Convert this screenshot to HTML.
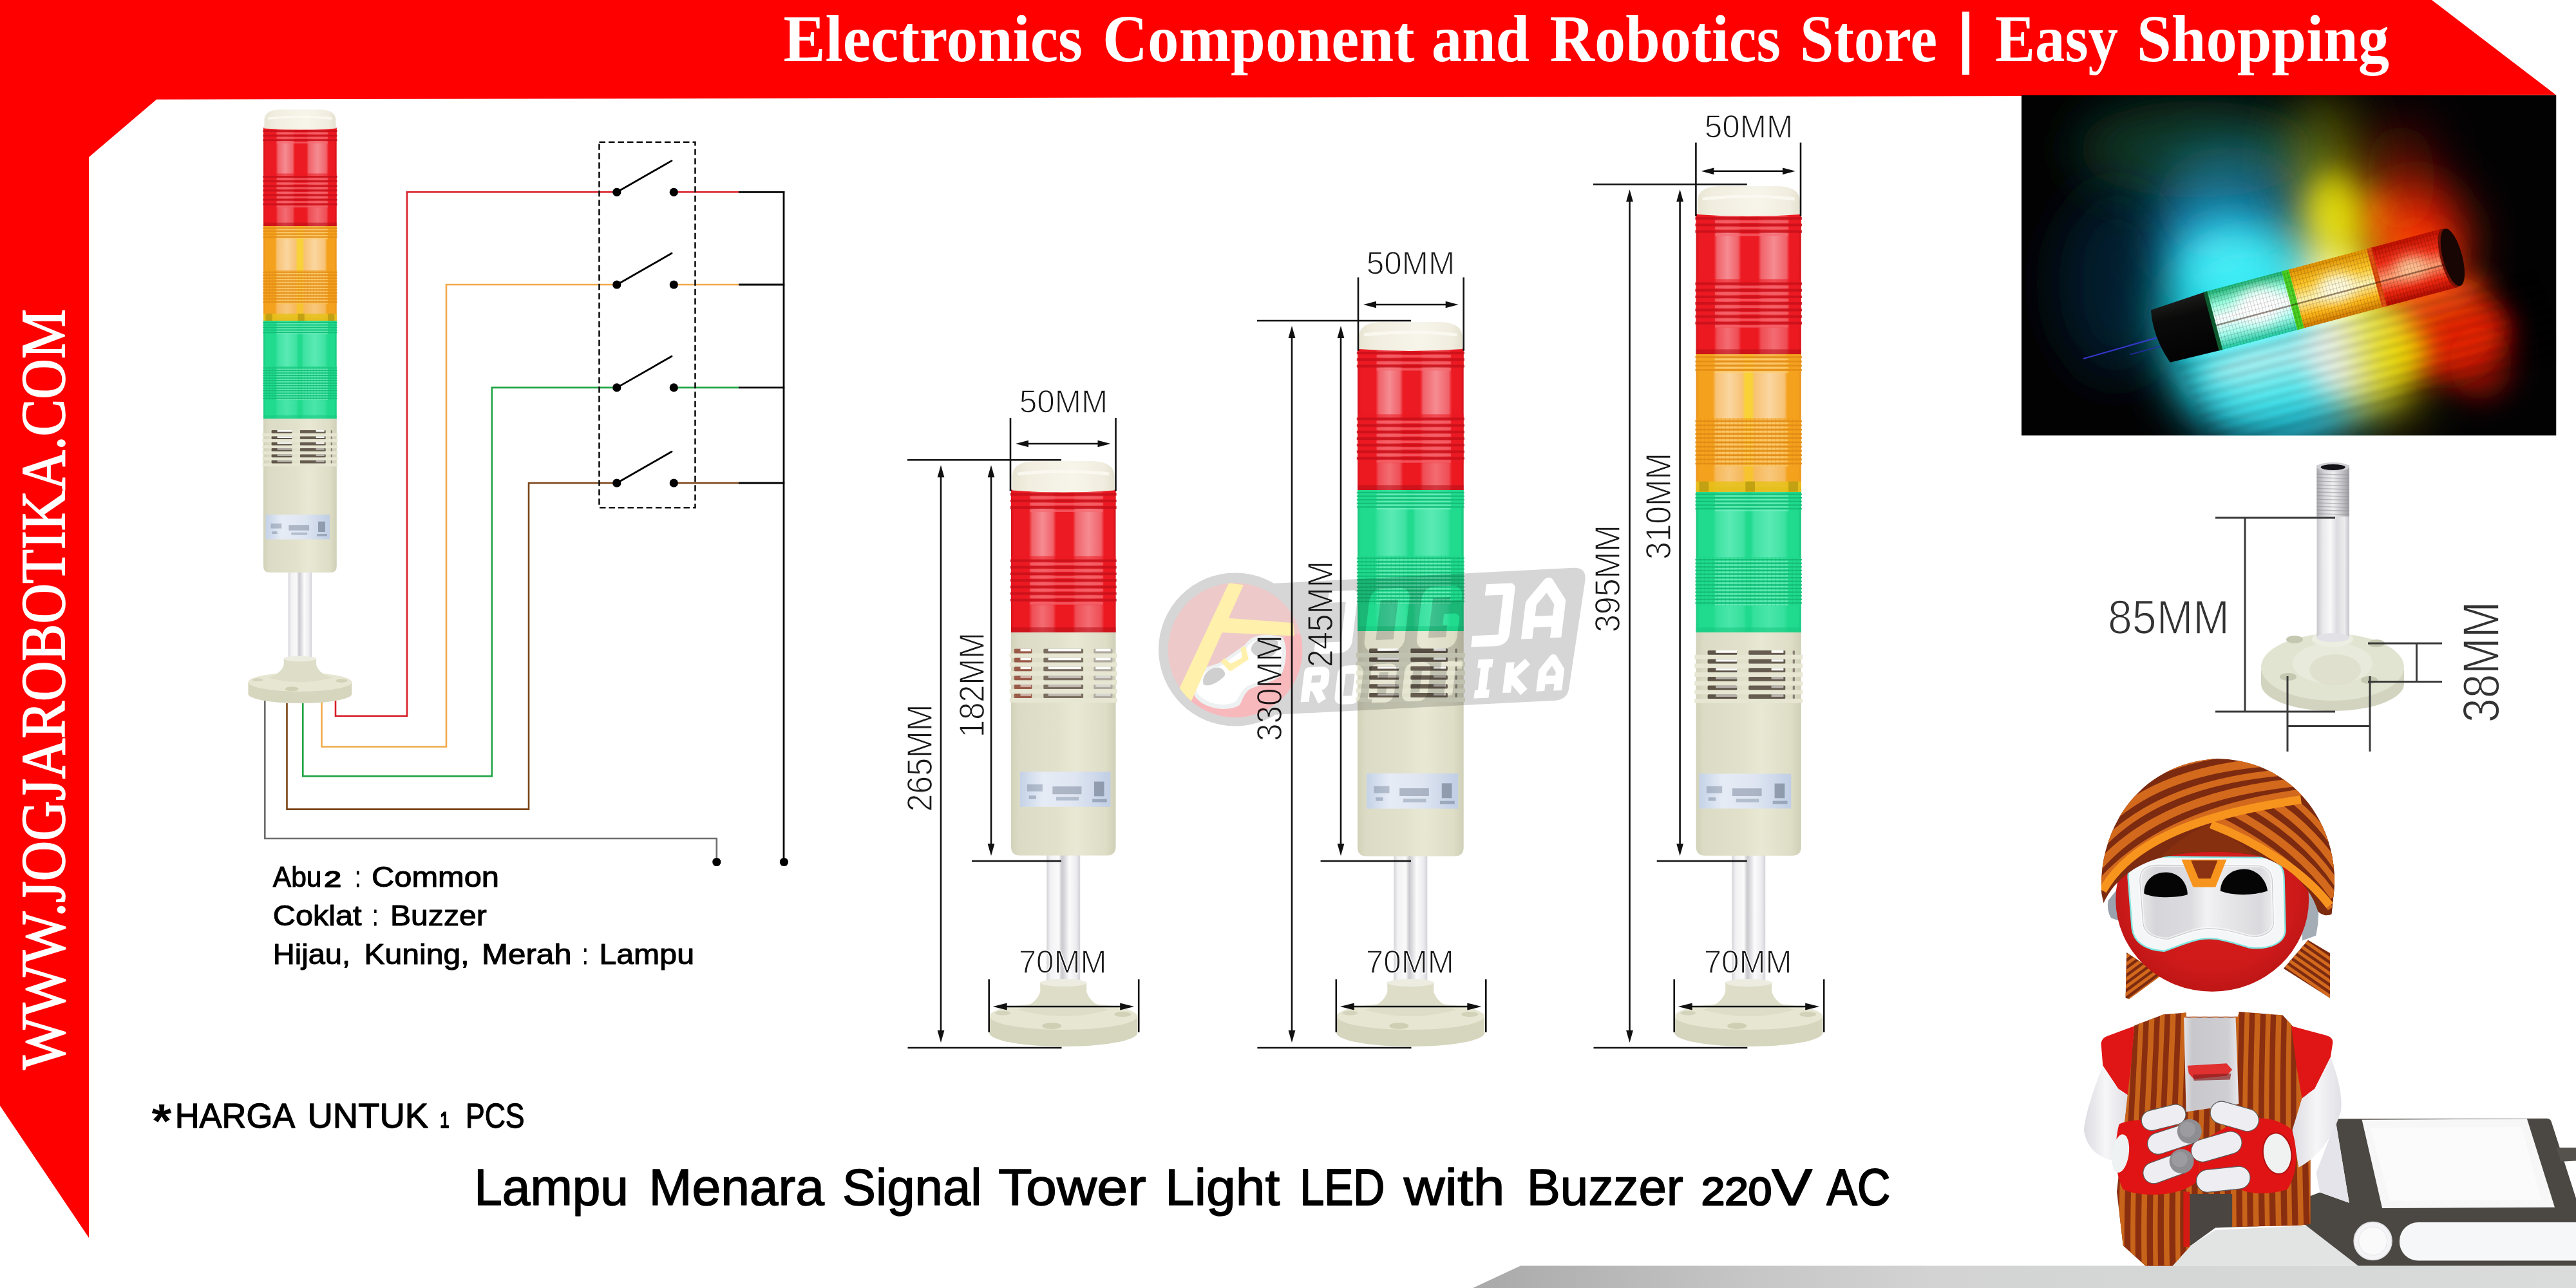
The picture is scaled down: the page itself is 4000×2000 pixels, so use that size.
<!DOCTYPE html>
<html><head><meta charset="utf-8"><title>Lampu Menara Signal Tower Light</title>
<style>
html,body{margin:0;padding:0;background:#fff;}
body{width:4000px;height:2000px;overflow:hidden;font-family:"Liberation Sans",sans-serif;}
svg{display:block;position:absolute;left:0;top:0;}
text{white-space:pre;}
</style></head><body>
<svg width="4000" height="2000" viewBox="0 0 4000 2000">
<defs>
<linearGradient id="sg1" x1="0" x2="1" y1="0" y2="0"><stop offset="0" stop-color="#d4121a"/><stop offset="0.03" stop-color="#ec1a22"/><stop offset="0.17" stop-color="#ec1a22"/><stop offset="0.2" stop-color="#f1626a"/><stop offset="0.3" stop-color="#f58c92"/><stop offset="0.4" stop-color="#f1626a"/><stop offset="0.43" stop-color="#ec1a22"/><stop offset="0.59" stop-color="#ec1a22"/><stop offset="0.62" stop-color="#f1626a"/><stop offset="0.74" stop-color="#f58c92"/><stop offset="0.86" stop-color="#f1626a"/><stop offset="0.89" stop-color="#ec1a22"/><stop offset="0.97" stop-color="#ec1a22"/><stop offset="1" stop-color="#d4121a"/></linearGradient>
<linearGradient id="sg2" x1="0" x2="1" y1="0" y2="0"><stop offset="0" stop-color="#e8901a"/><stop offset="0.03" stop-color="#f4a21e"/><stop offset="0.16" stop-color="#f4a21e"/><stop offset="0.19" stop-color="#f8c274"/><stop offset="0.32" stop-color="#fad6a0"/><stop offset="0.44" stop-color="#f8c274"/><stop offset="0.47" stop-color="#f8d236"/><stop offset="0.53" stop-color="#f8d236"/><stop offset="0.56" stop-color="#f8c274"/><stop offset="0.7" stop-color="#fad6a0"/><stop offset="0.84" stop-color="#f8c274"/><stop offset="0.87" stop-color="#f4a21e"/><stop offset="0.97" stop-color="#f4a21e"/><stop offset="1" stop-color="#e8901a"/></linearGradient>
<linearGradient id="sg3" x1="0" x2="1" y1="0" y2="0"><stop offset="0" stop-color="#16c47c"/><stop offset="0.03" stop-color="#20da8e"/><stop offset="0.16" stop-color="#20da8e"/><stop offset="0.2" stop-color="#3ee2a2"/><stop offset="0.32" stop-color="#5aeab4"/><stop offset="0.45" stop-color="#3ee2a2"/><stop offset="0.48" stop-color="#20da8e"/><stop offset="0.52" stop-color="#20da8e"/><stop offset="0.55" stop-color="#3ee2a2"/><stop offset="0.7" stop-color="#5aeab4"/><stop offset="0.84" stop-color="#3ee2a2"/><stop offset="0.88" stop-color="#20da8e"/><stop offset="0.97" stop-color="#20da8e"/><stop offset="1" stop-color="#16c47c"/></linearGradient>
<linearGradient id="bg4" x1="0" x2="1" y1="0" y2="0"><stop offset="0" stop-color="#d2d2ba"/><stop offset="0.08" stop-color="#dcdcc6"/><stop offset="0.45" stop-color="#e2e2cc"/><stop offset="0.62" stop-color="#e8e8d4"/><stop offset="0.9" stop-color="#deddc6"/><stop offset="1" stop-color="#d0d0b8"/></linearGradient>
<linearGradient id="pg5" x1="0" x2="1" y1="0" y2="0"><stop offset="0" stop-color="#d4d4d8"/><stop offset="0.12" stop-color="#f2f2f4"/><stop offset="0.36" stop-color="#fafafa"/><stop offset="0.46" stop-color="#c9c9ce"/><stop offset="0.56" stop-color="#dedee2"/><stop offset="0.68" stop-color="#fbfbfb"/><stop offset="0.88" stop-color="#ececf0"/><stop offset="1" stop-color="#d2d2d8"/></linearGradient>
<linearGradient id="cg6" x1="0" x2="1" y1="0" y2="0"><stop offset="0" stop-color="#e8e5d4"/><stop offset="0.15" stop-color="#f1eee0"/><stop offset="0.6" stop-color="#f7f5ea"/><stop offset="0.9" stop-color="#f0eddf"/><stop offset="1" stop-color="#e4e1d0"/></linearGradient>
<linearGradient id="lg7" x1="0" x2="1" y1="0" y2="0"><stop offset="0" stop-color="#c4d2e6"/><stop offset="0.25" stop-color="#e6ecf6"/><stop offset="0.6" stop-color="#dfe6f2"/><stop offset="1" stop-color="#c0cee4"/></linearGradient>
<clipPath id="photoclip"><rect x="3139" y="147.7" width="830.5" height="528.8"/></clipPath>
<filter id="bl40" x="-150%" y="-150%" width="400%" height="400%"><feGaussianBlur stdDeviation="38"/></filter>
<filter id="bl22" x="-150%" y="-150%" width="400%" height="400%"><feGaussianBlur stdDeviation="22"/></filter>
<filter id="bl10" x="-150%" y="-150%" width="400%" height="400%"><feGaussianBlur stdDeviation="10"/></filter>
<filter id="bl4" x="-150%" y="-150%" width="400%" height="400%"><feGaussianBlur stdDeviation="4"/></filter>
<filter id="bl2" x="-150%" y="-150%" width="400%" height="400%"><feGaussianBlur stdDeviation="1.6"/></filter>
<linearGradient id="lpg" x1="0" x2="0" y1="0" y2="1"><stop offset="0" stop-color="#18b070"/><stop offset="0.25" stop-color="#9affe0"/><stop offset="0.5" stop-color="#ffffff"/><stop offset="0.75" stop-color="#aafff0"/><stop offset="1" stop-color="#20c8a0"/></linearGradient>
<linearGradient id="lpy" x1="0" x2="0" y1="0" y2="1"><stop offset="0" stop-color="#e09000"/><stop offset="0.3" stop-color="#ffc828"/><stop offset="0.55" stop-color="#fff4b0"/><stop offset="0.8" stop-color="#ffb818"/><stop offset="1" stop-color="#d07800"/></linearGradient>
<linearGradient id="lpr" x1="0" x2="0" y1="0" y2="1"><stop offset="0" stop-color="#c01000"/><stop offset="0.3" stop-color="#f43018"/><stop offset="0.55" stop-color="#ff9a70"/><stop offset="0.8" stop-color="#f02810"/><stop offset="1" stop-color="#b00c00"/></linearGradient>
<linearGradient id="lpb" x1="0" x2="0" y1="0" y2="1"><stop offset="0" stop-color="#1c1c1a"/><stop offset="0.3" stop-color="#0a0a0a"/><stop offset="1" stop-color="#030303"/></linearGradient>
<linearGradient id="pole2" x1="0" x2="1" y1="0" y2="0"><stop offset="0" stop-color="#c8c8cc"/><stop offset="0.18" stop-color="#e8e8ea"/><stop offset="0.42" stop-color="#f8f8f8"/><stop offset="0.62" stop-color="#dcdce0"/><stop offset="0.85" stop-color="#ececee"/><stop offset="1" stop-color="#c4c4ca"/></linearGradient>
<linearGradient id="thr" x1="0" x2="1" y1="0" y2="0"><stop offset="0" stop-color="#a8a8ac"/><stop offset="0.25" stop-color="#d8d8dc"/><stop offset="0.5" stop-color="#efeff0"/><stop offset="0.75" stop-color="#c8c8cc"/><stop offset="1" stop-color="#9c9ca2"/></linearGradient>
<clipPath id="tailL"><path d="M3302.1,1479.1 L3355.7,1514.8 L3306.0,1551.3 L3300.6,1549.7 Z"/></clipPath>
<clipPath id="tailR"><path d="M3583.9,1459.7 L3618.0,1479.9 L3618.0,1549.7 L3545.9,1503.9 Z"/></clipPath>
<radialGradient id="ballg" cx="0.5" cy="0.45" r="0.6"><stop offset="0" stop-color="#d81e1e"/><stop offset="0.7" stop-color="#cf1a1a"/><stop offset="1" stop-color="#b81414"/></radialGradient>
<linearGradient id="visg" x1="0" x2="1" y1="0" y2="0"><stop offset="0" stop-color="#e9e9ec"/><stop offset="0.12" stop-color="#d6d6da"/><stop offset="0.38" stop-color="#dcdce0"/><stop offset="0.5" stop-color="#f2f2f4"/><stop offset="0.66" stop-color="#e6e6e8"/><stop offset="0.9" stop-color="#dadade"/><stop offset="1" stop-color="#ececee"/></linearGradient>
<clipPath id="turbc"><path d="M3263.3,1387.5 C3257.1,1297.5 3313.0,1185.7 3443.0,1177.9 C3569.9,1181.0 3632.0,1289.7 3624.3,1382.9 L3620.4,1419.3 C3611.8,1424.0 3603.3,1419.3 3599.4,1414.7 C3584.7,1367.3 3538.1,1332.4 3492.3,1326.6 C3453.5,1320.8 3399.2,1320.8 3352.6,1332.4 C3313.0,1344.0 3282.7,1367.3 3266.4,1402.3 Z"/></clipPath>
<clipPath id="turbr"><path d="M3429.4,1278.1 C3499.3,1247.0 3569.1,1239.3 3576.9,1241.6 C3635.1,1305.2 3631.2,1367.3 3624.3,1421.7 L3596.3,1417.8 C3576.9,1367.3 3522.6,1324.6 3483.8,1320.8 Z"/></clipPath>
<linearGradient id="floorg" x1="0" x2="1" y1="0" y2="0"><stop offset="0" stop-color="#a9a9a9"/><stop offset="0.25" stop-color="#c6c6c6"/><stop offset="0.42" stop-color="#d3d3d3"/><stop offset="0.75" stop-color="#d6d8d8"/><stop offset="1" stop-color="#dadcdc"/></linearGradient>
<clipPath id="vestc"><path d="M3314.2,1592.6 L3359.6,1575.2 L3394.6,1572.4 L3394.6,1578.7 L3474.9,1578.7 L3477.0,1571.0 L3544.8,1576.6 L3562.3,1596.1 L3587.5,1731.7 L3587.5,1900.8 L3569.3,1902.9 L3466.2,1905.0 L3466.2,1854.0 L3400.2,1854.0 L3400.2,1936.1 L3373.6,1965.8 L3331.7,1965.8 L3296.8,1934.3 L3287.0,1850.5 L3300.2,1731.7 Z"/></clipPath>
<linearGradient id="chestg" x1="0" x2="1" y1="0" y2="0"><stop offset="0" stop-color="#e4e4e8"/><stop offset="0.15" stop-color="#c8c8cc"/><stop offset="0.8" stop-color="#cfcfd3"/><stop offset="1" stop-color="#e8e8ec"/></linearGradient>
<linearGradient id="armg" x1="0" x2="1" y1="0" y2="0"><stop offset="0" stop-color="#dcdce2"/><stop offset="0.5" stop-color="#f6f6f8"/><stop offset="1" stop-color="#e0e0e6"/></linearGradient>
<clipPath id="wmin"><circle cx="1918.0" cy="1009.5" r="104.5"/></clipPath>
</defs>
<polygon points="0,0 3776,0 3969,147.5 243,154.5 138,244 138,1922 0,1717" fill="#fe0000"/>
<text x="1216.5" y="94.5" font-family="Liberation Serif" font-weight="bold" font-size="104" fill="#fff" textLength="464.5" lengthAdjust="spacingAndGlyphs">Electronics</text>
<text x="1712" y="94.5" font-family="Liberation Serif" font-weight="bold" font-size="104" fill="#fff" textLength="484.5" lengthAdjust="spacingAndGlyphs">Component</text>
<text x="2223" y="94.5" font-family="Liberation Serif" font-weight="bold" font-size="104" fill="#fff" textLength="152.0" lengthAdjust="spacingAndGlyphs">and</text>
<text x="2406.5" y="94.5" font-family="Liberation Serif" font-weight="bold" font-size="104" fill="#fff" textLength="358.5" lengthAdjust="spacingAndGlyphs">Robotics</text>
<text x="2795" y="94.5" font-family="Liberation Serif" font-weight="bold" font-size="104" fill="#fff" textLength="213.0" lengthAdjust="spacingAndGlyphs">Store</text>
<text x="3098" y="94.5" font-family="Liberation Serif" font-weight="bold" font-size="104" fill="#fff" textLength="191.0" lengthAdjust="spacingAndGlyphs">Easy</text>
<text x="3318" y="94.5" font-family="Liberation Serif" font-weight="bold" font-size="104" fill="#fff" textLength="392.0" lengthAdjust="spacingAndGlyphs">Shopping</text>
<rect x="3047" y="18" width="11" height="98" fill="#fff"/>
<text id="vtext" transform="translate(99.5,1661) rotate(-90)" font-family="Liberation Serif" font-size="97" fill="#fff" stroke="#fff" stroke-width="1.7" textLength="1181" lengthAdjust="spacingAndGlyphs">WWW.JOGJAROBOTIKA.COM</text>
<text x="423.8" y="1376.5" font-family="Liberation Sans" font-weight="normal" font-size="45" fill="#000" stroke="#000" stroke-width="1.1" stroke-linejoin="round" textLength="75.7" lengthAdjust="spacingAndGlyphs">Abu</text>
<text x="503.3" y="1376.5" font-family="Liberation Sans" font-weight="normal" font-size="35" fill="#000" stroke="#000" stroke-width="1.9" stroke-linejoin="round" textLength="26.7" lengthAdjust="spacingAndGlyphs">2</text>
<text x="551.5" y="1376.5" font-family="Liberation Sans" font-weight="normal" font-size="45" fill="#000" stroke="#000" stroke-width="1.1" stroke-linejoin="round" textLength="8.5" lengthAdjust="spacingAndGlyphs">:</text>
<text x="577" y="1376.5" font-family="Liberation Sans" font-weight="normal" font-size="45" fill="#000" stroke="#000" stroke-width="1.1" stroke-linejoin="round" textLength="198.0" lengthAdjust="spacingAndGlyphs">Common</text>
<text x="423.8" y="1436.7" font-family="Liberation Sans" font-weight="normal" font-size="45" fill="#000" stroke="#000" stroke-width="1.1" stroke-linejoin="round" textLength="137.8" lengthAdjust="spacingAndGlyphs">Coklat</text>
<text x="578.5" y="1436.7" font-family="Liberation Sans" font-weight="normal" font-size="45" fill="#000" stroke="#000" stroke-width="1.1" stroke-linejoin="round" textLength="8.5" lengthAdjust="spacingAndGlyphs">:</text>
<text x="606" y="1436.7" font-family="Liberation Sans" font-weight="normal" font-size="45" fill="#000" stroke="#000" stroke-width="1.1" stroke-linejoin="round" textLength="149.7" lengthAdjust="spacingAndGlyphs">Buzzer</text>
<text x="423.8" y="1497" font-family="Liberation Sans" font-weight="normal" font-size="45" fill="#000" stroke="#000" stroke-width="1.1" stroke-linejoin="round" textLength="120.2" lengthAdjust="spacingAndGlyphs">Hijau,</text>
<text x="565.5" y="1497" font-family="Liberation Sans" font-weight="normal" font-size="45" fill="#000" stroke="#000" stroke-width="1.1" stroke-linejoin="round" textLength="163.0" lengthAdjust="spacingAndGlyphs">Kuning,</text>
<text x="748" y="1497" font-family="Liberation Sans" font-weight="normal" font-size="45" fill="#000" stroke="#000" stroke-width="1.1" stroke-linejoin="round" textLength="139.7" lengthAdjust="spacingAndGlyphs">Merah</text>
<text x="904.5" y="1497" font-family="Liberation Sans" font-weight="normal" font-size="45" fill="#000" stroke="#000" stroke-width="1.1" stroke-linejoin="round" textLength="8.5" lengthAdjust="spacingAndGlyphs">:</text>
<text x="930.4" y="1497" font-family="Liberation Sans" font-weight="normal" font-size="45" fill="#000" stroke="#000" stroke-width="1.1" stroke-linejoin="round" textLength="147.6" lengthAdjust="spacingAndGlyphs">Lampu</text>
<text x="271.7" y="1751.4" font-family="Liberation Sans" font-weight="normal" font-size="54" fill="#000" stroke="#000" stroke-width="1.3" stroke-linejoin="round" textLength="186.6" lengthAdjust="spacingAndGlyphs">HARGA</text>
<text x="477.5" y="1751.4" font-family="Liberation Sans" font-weight="normal" font-size="54" fill="#000" stroke="#000" stroke-width="1.3" stroke-linejoin="round" textLength="187.7" lengthAdjust="spacingAndGlyphs">UNTUK</text>
<text x="683.3" y="1751.4" font-family="Liberation Sans" font-weight="normal" font-size="35" fill="#000" stroke="#000" stroke-width="2.2" stroke-linejoin="round" textLength="14.4" lengthAdjust="spacingAndGlyphs">1</text>
<text x="723" y="1751.4" font-family="Liberation Sans" font-weight="normal" font-size="54" fill="#000" stroke="#000" stroke-width="1.3" stroke-linejoin="round" textLength="91.5" lengthAdjust="spacingAndGlyphs">PCS</text>
<text x="235.5" y="1766" font-family="Liberation Sans" font-weight="bold" font-size="74" fill="#000" textLength="31" lengthAdjust="spacingAndGlyphs">*</text>
<text x="736.3" y="1871" font-family="Liberation Sans" font-weight="normal" font-size="80" fill="#000" stroke="#000" stroke-width="1.5" stroke-linejoin="round" textLength="239.5" lengthAdjust="spacingAndGlyphs">Lampu</text>
<text x="1007.5" y="1871" font-family="Liberation Sans" font-weight="normal" font-size="80" fill="#000" stroke="#000" stroke-width="1.5" stroke-linejoin="round" textLength="272.5" lengthAdjust="spacingAndGlyphs">Menara</text>
<text x="1308" y="1871" font-family="Liberation Sans" font-weight="normal" font-size="80" fill="#000" stroke="#000" stroke-width="1.5" stroke-linejoin="round" textLength="216.5" lengthAdjust="spacingAndGlyphs">Signal</text>
<text x="1550" y="1871" font-family="Liberation Sans" font-weight="normal" font-size="80" fill="#000" stroke="#000" stroke-width="1.5" stroke-linejoin="round" textLength="229.8" lengthAdjust="spacingAndGlyphs">Tower</text>
<text x="1808.9" y="1871" font-family="Liberation Sans" font-weight="normal" font-size="80" fill="#000" stroke="#000" stroke-width="1.5" stroke-linejoin="round" textLength="178.4" lengthAdjust="spacingAndGlyphs">Light</text>
<text x="2018.5" y="1871" font-family="Liberation Sans" font-weight="normal" font-size="80" fill="#000" stroke="#000" stroke-width="2.2" stroke-linejoin="round" textLength="131.8" lengthAdjust="spacingAndGlyphs">LED</text>
<text x="2179.7" y="1871" font-family="Liberation Sans" font-weight="normal" font-size="80" fill="#000" stroke="#000" stroke-width="1.5" stroke-linejoin="round" textLength="157.0" lengthAdjust="spacingAndGlyphs">with</text>
<text x="2370.7" y="1871" font-family="Liberation Sans" font-weight="normal" font-size="80" fill="#000" stroke="#000" stroke-width="1.5" stroke-linejoin="round" textLength="243.2" lengthAdjust="spacingAndGlyphs">Buzzer</text>
<text x="2641.8" y="1871" font-family="Liberation Sans" font-weight="normal" font-size="61" fill="#000" stroke="#000" stroke-width="2.6" stroke-linejoin="round" textLength="109.5" lengthAdjust="spacingAndGlyphs">220</text>
<text x="2751.3" y="1871" font-family="Liberation Sans" font-weight="normal" font-size="80" fill="#000" stroke="#000" stroke-width="2.0" stroke-linejoin="round" textLength="62.7" lengthAdjust="spacingAndGlyphs">V</text>
<text x="2836.5" y="1871" font-family="Liberation Sans" font-weight="normal" font-size="80" fill="#000" stroke="#000" stroke-width="2.0" stroke-linejoin="round" textLength="98.8" lengthAdjust="spacingAndGlyphs">AC</text>
<polyline points="521,1088 521,1111.8 632,1111.8 632,298.3 958,298.3" fill="none" stroke="#d81e28" stroke-width="2.6" stroke-linejoin="miter"/>
<polyline points="499.5,1090 499.5,1159.5 693,1159.5 693,442 958,442" fill="none" stroke="#f2aa4a" stroke-width="2.6" stroke-linejoin="miter"/>
<polyline points="470.3,1092 470.3,1205.4 763.8,1205.4 763.8,601.9 958,601.9" fill="none" stroke="#22a447" stroke-width="2.6" stroke-linejoin="miter"/>
<polyline points="445.5,1092 445.5,1256.6 821,1256.6 821,750 958,750" fill="none" stroke="#7a4316" stroke-width="2.6" stroke-linejoin="miter"/>
<polyline points="411.3,1088 411.3,1302 1112.8,1302 1112.8,1338" fill="none" stroke="#6e6e6e" stroke-width="2.6" stroke-linejoin="miter"/>
<polyline points="1046,298.3 1148,298.3" fill="none" stroke="#d81e28" stroke-width="2.6" stroke-linejoin="miter"/>
<polyline points="1147,298.3 1218.2,298.3" fill="none" stroke="#000" stroke-width="2.8" stroke-linejoin="miter"/>
<polyline points="1046,442 1148,442" fill="none" stroke="#f2aa4a" stroke-width="2.6" stroke-linejoin="miter"/>
<polyline points="1147,442 1218.2,442" fill="none" stroke="#000" stroke-width="2.8" stroke-linejoin="miter"/>
<polyline points="1046,601.9 1148,601.9" fill="none" stroke="#22a447" stroke-width="2.6" stroke-linejoin="miter"/>
<polyline points="1147,601.9 1218.2,601.9" fill="none" stroke="#000" stroke-width="2.8" stroke-linejoin="miter"/>
<polyline points="1046,750 1148,750" fill="none" stroke="#7a4316" stroke-width="2.6" stroke-linejoin="miter"/>
<polyline points="1147,750 1218.2,750" fill="none" stroke="#000" stroke-width="2.8" stroke-linejoin="miter"/>
<polyline points="1217,296.90000000000003 1217,1338" fill="none" stroke="#000" stroke-width="2.8" stroke-linejoin="miter"/>
<rect x="930.5" y="220.7" width="149" height="567.5" fill="none" stroke="#111" stroke-width="2.6" stroke-dasharray="9.5,5"/>
<line x1="958" y1="298.3" x2="1043" y2="249.60000000000002" stroke="#000" stroke-width="2.8" stroke-linecap="round"/>
<circle cx="957.8" cy="298.3" r="6.6" fill="#000"/><circle cx="1046.3" cy="298.3" r="6.6" fill="#000"/>
<line x1="958" y1="442" x2="1043" y2="393.3" stroke="#000" stroke-width="2.8" stroke-linecap="round"/>
<circle cx="957.8" cy="442" r="6.6" fill="#000"/><circle cx="1046.3" cy="442" r="6.6" fill="#000"/>
<line x1="958" y1="601.9" x2="1043" y2="553.1999999999999" stroke="#000" stroke-width="2.8" stroke-linecap="round"/>
<circle cx="957.8" cy="601.9" r="6.6" fill="#000"/><circle cx="1046.3" cy="601.9" r="6.6" fill="#000"/>
<line x1="958" y1="750" x2="1043" y2="701.3" stroke="#000" stroke-width="2.8" stroke-linecap="round"/>
<circle cx="957.8" cy="750" r="6.6" fill="#000"/><circle cx="1046.3" cy="750" r="6.6" fill="#000"/>
<circle cx="1112.8" cy="1338.5" r="6.6" fill="#000"/><circle cx="1217.4" cy="1338.5" r="6.6" fill="#000"/>
<rect x="447.7" y="885.0" width="36.4" height="141.0" fill="url(#pg5)"/>
<path d="M385.4,1059.2 L385.4,1077.4 A80.5,14.7 0 0 0 546.4,1077.4 L546.4,1059.2 Z" fill="#d6d6be"/><ellipse cx="465.9" cy="1059.2" rx="80.5" ry="14.7" fill="#e6e6d2"/><path d="M440.7,1022.1 Q465.9,1017.2 491.1,1022.1 L491.1,1032.6 Q495.3,1046.6 515.8,1052.2 Q465.9,1066.2 416.0,1052.2 Q436.5,1046.6 440.7,1032.6 Z" fill="#dedec8"/><ellipse cx="465.9" cy="1022.8" rx="25.2" ry="4.2" fill="#ecece0"/><ellipse cx="453.3" cy="1069.7" rx="10.5" ry="3.5" fill="#cfcfb4"/><ellipse cx="530.3" cy="1057.1" rx="9.1" ry="2.8" fill="#d2d2b8"/><ellipse cx="400.1" cy="1055.7" rx="8.4" ry="2.4" fill="#d4d4bc"/>
<path d="M409.0,650.0 L522.8,650.0 L522.8,879.2 Q522.8,889.0 513.0,889.0 L418.8,889.0 Q409.0,889.0 409.0,879.2 Z" fill="url(#bg4)"/>
<rect x="407.5" y="672.7" width="116.8" height="4.7" fill="#e6e6d2"/><rect x="421.6" y="668.0" width="31.8" height="4.7" rx="1.0" fill="#5e5448"/><rect x="430.5" y="668.0" width="22.9" height="2.6" fill="#fcfcfa" opacity="1.0"/><rect x="465.9" y="668.0" width="39.8" height="4.7" rx="1.0" fill="#665c50"/><rect x="490.6" y="668.0" width="13.1" height="2.6" fill="#fcfcfa" opacity="1.0"/><rect x="513.7" y="668.0" width="2.3" height="4.7" rx="1.0" fill="#8a8278"/><rect x="407.5" y="682.0" width="116.8" height="4.7" fill="#e6e6d2"/><rect x="421.6" y="677.4" width="31.8" height="4.7" rx="1.0" fill="#5e5448"/><rect x="430.5" y="677.4" width="22.9" height="2.6" fill="#fcfcfa" opacity="1.0"/><rect x="465.9" y="677.4" width="39.8" height="4.7" rx="1.0" fill="#665c50"/><rect x="490.6" y="677.4" width="13.1" height="2.6" fill="#fcfcfa" opacity="1.0"/><rect x="513.7" y="677.4" width="2.3" height="4.7" rx="1.0" fill="#8a8278"/><rect x="407.5" y="691.4" width="116.8" height="4.7" fill="#e6e6d2"/><rect x="421.6" y="686.7" width="31.8" height="4.7" rx="1.0" fill="#5e5448"/><rect x="430.5" y="686.7" width="22.9" height="2.6" fill="#fcfcfa" opacity="1.0"/><rect x="465.9" y="686.7" width="39.8" height="4.7" rx="1.0" fill="#665c50"/><rect x="490.6" y="686.7" width="13.1" height="2.6" fill="#fcfcfa" opacity="1.0"/><rect x="513.7" y="686.7" width="2.3" height="4.7" rx="1.0" fill="#8a8278"/><rect x="407.5" y="700.8" width="116.8" height="4.7" fill="#e6e6d2"/><rect x="421.6" y="696.1" width="31.8" height="4.7" rx="1.0" fill="#5e5448"/><rect x="430.5" y="696.1" width="22.9" height="2.6" fill="#fcfcfa" opacity="0.55"/><rect x="465.9" y="696.1" width="39.8" height="4.7" rx="1.0" fill="#665c50"/><rect x="490.6" y="696.1" width="13.1" height="2.6" fill="#fcfcfa" opacity="0.55"/><rect x="513.7" y="696.1" width="2.3" height="4.7" rx="1.0" fill="#8a8278"/><rect x="407.5" y="710.1" width="116.8" height="4.7" fill="#e6e6d2"/><rect x="421.6" y="705.5" width="31.8" height="4.7" rx="1.0" fill="#5e5448"/><rect x="430.5" y="705.5" width="22.9" height="2.6" fill="#fcfcfa" opacity="0.55"/><rect x="465.9" y="705.5" width="39.8" height="4.7" rx="1.0" fill="#665c50"/><rect x="490.6" y="705.5" width="13.1" height="2.6" fill="#fcfcfa" opacity="0.55"/><rect x="513.7" y="705.5" width="2.3" height="4.7" rx="1.0" fill="#8a8278"/><rect x="407.5" y="719.5" width="116.8" height="4.7" fill="#e6e6d2"/><rect x="421.6" y="714.8" width="31.8" height="4.7" rx="1.0" fill="#5e5448"/><rect x="430.5" y="714.8" width="22.9" height="2.6" fill="#fcfcfa" opacity="0.55"/><rect x="465.9" y="714.8" width="39.8" height="4.7" rx="1.0" fill="#665c50"/><rect x="490.6" y="714.8" width="13.1" height="2.6" fill="#fcfcfa" opacity="0.55"/><rect x="513.7" y="714.8" width="2.3" height="4.7" rx="1.0" fill="#8a8278"/>
<rect x="412.5" y="799.0" width="99.5" height="38.6" fill="url(#lg7)"/>
<rect x="420.4" y="812.9" width="16.9" height="7.7" fill="#5a6a80" opacity="0.35"/><rect x="422.4" y="825.2" width="8.0" height="3.9" fill="#7a8aa0" opacity="0.5"/><rect x="448.3" y="815.2" width="31.8" height="8.5" fill="#4a5a70" opacity="0.35"/><rect x="452.3" y="826.8" width="24.9" height="3.9" fill="#7a8aa0" opacity="0.45"/><rect x="494.0" y="809.8" width="10.9" height="16.2" fill="#3a4658" opacity="0.4"/><rect x="492.1" y="829.1" width="15.9" height="3.5" fill="#6a7a90" opacity="0.5"/>
<rect x="409.0" y="498.0" width="113.7" height="152.0" fill="url(#sg3)"/><rect x="409.0" y="498.0" width="113.7" height="19.0" fill="#20da8e" opacity="0.62"/><rect x="408.2" y="500.0" width="115.4" height="1.57" fill="#12b872" opacity="0.85"/><rect x="429.5" y="501.9" width="79.6" height="1.49" fill="#7af0c4" opacity="0.7"/><rect x="408.2" y="503.9" width="115.4" height="1.57" fill="#12b872" opacity="0.85"/><rect x="429.5" y="505.8" width="79.6" height="1.49" fill="#7af0c4" opacity="0.7"/><rect x="408.2" y="507.8" width="115.4" height="1.57" fill="#12b872" opacity="0.85"/><rect x="429.5" y="509.8" width="79.6" height="1.49" fill="#7af0c4" opacity="0.7"/><rect x="408.2" y="511.7" width="115.4" height="1.57" fill="#12b872" opacity="0.85"/><rect x="429.5" y="513.7" width="79.6" height="1.49" fill="#7af0c4" opacity="0.7"/><rect x="408.2" y="515.6" width="115.4" height="1.57" fill="#12b872" opacity="0.85"/><rect x="429.5" y="517.6" width="79.6" height="1.49" fill="#7af0c4" opacity="0.7"/><rect x="409.0" y="568.7" width="113.7" height="52.4" fill="#20da8e" opacity="0.55"/><rect x="408.2" y="570.6" width="115.4" height="1.57" fill="#12b872" opacity="0.85"/><rect x="429.5" y="572.6" width="79.6" height="1.49" fill="#7af0c4" opacity="0.7"/><rect x="408.2" y="574.6" width="115.4" height="1.57" fill="#12b872" opacity="0.85"/><rect x="429.5" y="576.5" width="79.6" height="1.49" fill="#7af0c4" opacity="0.7"/><rect x="408.2" y="578.5" width="115.4" height="1.57" fill="#12b872" opacity="0.85"/><rect x="429.5" y="580.4" width="79.6" height="1.49" fill="#7af0c4" opacity="0.7"/><rect x="408.2" y="582.4" width="115.4" height="1.57" fill="#12b872" opacity="0.85"/><rect x="429.5" y="584.4" width="79.6" height="1.49" fill="#7af0c4" opacity="0.7"/><rect x="408.2" y="586.3" width="115.4" height="1.57" fill="#12b872" opacity="0.85"/><rect x="429.5" y="588.3" width="79.6" height="1.49" fill="#7af0c4" opacity="0.7"/><rect x="408.2" y="590.2" width="115.4" height="1.57" fill="#12b872" opacity="0.85"/><rect x="429.5" y="592.2" width="79.6" height="1.49" fill="#7af0c4" opacity="0.7"/><rect x="408.2" y="594.2" width="115.4" height="1.57" fill="#12b872" opacity="0.85"/><rect x="429.5" y="596.1" width="79.6" height="1.49" fill="#7af0c4" opacity="0.7"/><rect x="408.2" y="598.1" width="115.4" height="1.57" fill="#12b872" opacity="0.85"/><rect x="429.5" y="600.0" width="79.6" height="1.49" fill="#7af0c4" opacity="0.7"/><rect x="408.2" y="602.0" width="115.4" height="1.57" fill="#12b872" opacity="0.85"/><rect x="429.5" y="604.0" width="79.6" height="1.49" fill="#7af0c4" opacity="0.7"/><rect x="408.2" y="605.9" width="115.4" height="1.57" fill="#12b872" opacity="0.85"/><rect x="429.5" y="607.9" width="79.6" height="1.49" fill="#7af0c4" opacity="0.7"/><rect x="408.2" y="609.8" width="115.4" height="1.57" fill="#12b872" opacity="0.85"/><rect x="429.5" y="611.8" width="79.6" height="1.49" fill="#7af0c4" opacity="0.7"/><rect x="408.2" y="613.8" width="115.4" height="1.57" fill="#12b872" opacity="0.85"/><rect x="429.5" y="615.7" width="79.6" height="1.49" fill="#7af0c4" opacity="0.7"/><rect x="408.2" y="617.7" width="115.4" height="1.57" fill="#12b872" opacity="0.85"/><rect x="429.5" y="619.6" width="79.6" height="1.49" fill="#7af0c4" opacity="0.7"/><rect x="413.2" y="568.7" width="1.0" height="52.4" fill="#12b872" opacity="0.28"/><rect x="417.8" y="568.7" width="1.0" height="52.4" fill="#12b872" opacity="0.28"/><rect x="422.3" y="568.7" width="1.0" height="52.4" fill="#12b872" opacity="0.28"/><rect x="426.9" y="568.7" width="1.0" height="52.4" fill="#12b872" opacity="0.28"/><rect x="431.4" y="568.7" width="1.0" height="52.4" fill="#12b872" opacity="0.28"/><rect x="436.0" y="568.7" width="1.0" height="52.4" fill="#12b872" opacity="0.28"/><rect x="440.6" y="568.7" width="1.0" height="52.4" fill="#12b872" opacity="0.28"/><rect x="445.1" y="568.7" width="1.0" height="52.4" fill="#12b872" opacity="0.28"/><rect x="449.7" y="568.7" width="1.0" height="52.4" fill="#12b872" opacity="0.28"/><rect x="454.2" y="568.7" width="1.0" height="52.4" fill="#12b872" opacity="0.28"/><rect x="458.8" y="568.7" width="1.0" height="52.4" fill="#12b872" opacity="0.28"/><rect x="463.3" y="568.7" width="1.0" height="52.4" fill="#12b872" opacity="0.28"/><rect x="467.9" y="568.7" width="1.0" height="52.4" fill="#12b872" opacity="0.28"/><rect x="472.4" y="568.7" width="1.0" height="52.4" fill="#12b872" opacity="0.28"/><rect x="477.0" y="568.7" width="1.0" height="52.4" fill="#12b872" opacity="0.28"/><rect x="481.5" y="568.7" width="1.0" height="52.4" fill="#12b872" opacity="0.28"/><rect x="486.1" y="568.7" width="1.0" height="52.4" fill="#12b872" opacity="0.28"/><rect x="490.6" y="568.7" width="1.0" height="52.4" fill="#12b872" opacity="0.28"/><rect x="495.2" y="568.7" width="1.0" height="52.4" fill="#12b872" opacity="0.28"/><rect x="499.7" y="568.7" width="1.0" height="52.4" fill="#12b872" opacity="0.28"/><rect x="504.3" y="568.7" width="1.0" height="52.4" fill="#12b872" opacity="0.28"/><rect x="508.8" y="568.7" width="1.0" height="52.4" fill="#12b872" opacity="0.28"/><rect x="513.4" y="568.7" width="1.0" height="52.4" fill="#12b872" opacity="0.28"/><rect x="517.9" y="568.7" width="1.0" height="52.4" fill="#12b872" opacity="0.28"/><rect x="409.0" y="621.1" width="113.7" height="28.9" fill="#20da8e" opacity="0.28"/><rect x="409.0" y="644.7" width="113.7" height="5.3" fill="#18c880" opacity="0.55"/>
<rect x="409.0" y="351.0" width="113.7" height="147.0" fill="url(#sg2)"/><rect x="409.0" y="351.0" width="113.7" height="18.4" fill="#f4a21e" opacity="0.62"/><rect x="408.2" y="353.3" width="115.4" height="1.85" fill="#e08a14" opacity="0.85"/><rect x="429.5" y="355.6" width="79.6" height="1.76" fill="#fdd070" opacity="0.7"/><rect x="408.2" y="357.9" width="115.4" height="1.85" fill="#e08a14" opacity="0.85"/><rect x="429.5" y="360.2" width="79.6" height="1.76" fill="#fdd070" opacity="0.7"/><rect x="408.2" y="362.6" width="115.4" height="1.85" fill="#e08a14" opacity="0.85"/><rect x="429.5" y="364.9" width="79.6" height="1.76" fill="#fdd070" opacity="0.7"/><rect x="408.2" y="367.2" width="115.4" height="1.85" fill="#e08a14" opacity="0.85"/><rect x="429.5" y="369.5" width="79.6" height="1.76" fill="#fdd070" opacity="0.7"/><rect x="409.0" y="419.4" width="113.7" height="50.7" fill="#f4a21e" opacity="0.55"/><rect x="408.2" y="421.7" width="115.4" height="1.85" fill="#e08a14" opacity="0.85"/><rect x="429.5" y="424.0" width="79.6" height="1.76" fill="#fdd070" opacity="0.7"/><rect x="408.2" y="426.3" width="115.4" height="1.85" fill="#e08a14" opacity="0.85"/><rect x="429.5" y="428.6" width="79.6" height="1.76" fill="#fdd070" opacity="0.7"/><rect x="408.2" y="430.9" width="115.4" height="1.85" fill="#e08a14" opacity="0.85"/><rect x="429.5" y="433.2" width="79.6" height="1.76" fill="#fdd070" opacity="0.7"/><rect x="408.2" y="435.5" width="115.4" height="1.85" fill="#e08a14" opacity="0.85"/><rect x="429.5" y="437.8" width="79.6" height="1.76" fill="#fdd070" opacity="0.7"/><rect x="408.2" y="440.1" width="115.4" height="1.85" fill="#e08a14" opacity="0.85"/><rect x="429.5" y="442.5" width="79.6" height="1.76" fill="#fdd070" opacity="0.7"/><rect x="408.2" y="444.8" width="115.4" height="1.85" fill="#e08a14" opacity="0.85"/><rect x="429.5" y="447.1" width="79.6" height="1.76" fill="#fdd070" opacity="0.7"/><rect x="408.2" y="449.4" width="115.4" height="1.85" fill="#e08a14" opacity="0.85"/><rect x="429.5" y="451.7" width="79.6" height="1.76" fill="#fdd070" opacity="0.7"/><rect x="408.2" y="454.0" width="115.4" height="1.85" fill="#e08a14" opacity="0.85"/><rect x="429.5" y="456.3" width="79.6" height="1.76" fill="#fdd070" opacity="0.7"/><rect x="408.2" y="458.6" width="115.4" height="1.85" fill="#e08a14" opacity="0.85"/><rect x="429.5" y="460.9" width="79.6" height="1.76" fill="#fdd070" opacity="0.7"/><rect x="408.2" y="463.2" width="115.4" height="1.85" fill="#e08a14" opacity="0.85"/><rect x="429.5" y="465.6" width="79.6" height="1.76" fill="#fdd070" opacity="0.7"/><rect x="408.2" y="467.9" width="115.4" height="1.85" fill="#e08a14" opacity="0.85"/><rect x="429.5" y="470.2" width="79.6" height="1.76" fill="#fdd070" opacity="0.7"/><rect x="413.2" y="419.4" width="1.0" height="50.7" fill="#e08a14" opacity="0.28"/><rect x="417.8" y="419.4" width="1.0" height="50.7" fill="#e08a14" opacity="0.28"/><rect x="422.3" y="419.4" width="1.0" height="50.7" fill="#e08a14" opacity="0.28"/><rect x="426.9" y="419.4" width="1.0" height="50.7" fill="#e08a14" opacity="0.28"/><rect x="431.4" y="419.4" width="1.0" height="50.7" fill="#e08a14" opacity="0.28"/><rect x="436.0" y="419.4" width="1.0" height="50.7" fill="#e08a14" opacity="0.28"/><rect x="440.6" y="419.4" width="1.0" height="50.7" fill="#e08a14" opacity="0.28"/><rect x="445.1" y="419.4" width="1.0" height="50.7" fill="#e08a14" opacity="0.28"/><rect x="449.7" y="419.4" width="1.0" height="50.7" fill="#e08a14" opacity="0.28"/><rect x="454.2" y="419.4" width="1.0" height="50.7" fill="#e08a14" opacity="0.28"/><rect x="458.8" y="419.4" width="1.0" height="50.7" fill="#e08a14" opacity="0.28"/><rect x="463.3" y="419.4" width="1.0" height="50.7" fill="#e08a14" opacity="0.28"/><rect x="467.9" y="419.4" width="1.0" height="50.7" fill="#e08a14" opacity="0.28"/><rect x="472.4" y="419.4" width="1.0" height="50.7" fill="#e08a14" opacity="0.28"/><rect x="477.0" y="419.4" width="1.0" height="50.7" fill="#e08a14" opacity="0.28"/><rect x="481.5" y="419.4" width="1.0" height="50.7" fill="#e08a14" opacity="0.28"/><rect x="486.1" y="419.4" width="1.0" height="50.7" fill="#e08a14" opacity="0.28"/><rect x="490.6" y="419.4" width="1.0" height="50.7" fill="#e08a14" opacity="0.28"/><rect x="495.2" y="419.4" width="1.0" height="50.7" fill="#e08a14" opacity="0.28"/><rect x="499.7" y="419.4" width="1.0" height="50.7" fill="#e08a14" opacity="0.28"/><rect x="504.3" y="419.4" width="1.0" height="50.7" fill="#e08a14" opacity="0.28"/><rect x="508.8" y="419.4" width="1.0" height="50.7" fill="#e08a14" opacity="0.28"/><rect x="513.4" y="419.4" width="1.0" height="50.7" fill="#e08a14" opacity="0.28"/><rect x="517.9" y="419.4" width="1.0" height="50.7" fill="#e08a14" opacity="0.28"/><rect x="409.0" y="470.1" width="113.7" height="27.9" fill="#f4a21e" opacity="0.28"/><rect x="409.0" y="492.9" width="113.7" height="5.1" fill="#c8a010" opacity="0.55"/><rect x="409.0" y="487.0" width="113.7" height="11.0" fill="#e6c21a" opacity="0.85"/><rect x="412.5" y="487.0" width="10.2" height="11.0" fill="#b89a10" opacity="0.8"/><rect x="462.5" y="487.0" width="10.2" height="11.0" fill="#b89a10" opacity="0.8"/><rect x="509.1" y="487.0" width="10.2" height="11.0" fill="#b89a10" opacity="0.8"/>
<rect x="409.0" y="198.5" width="113.7" height="152.5" fill="url(#sg1)"/><rect x="409.0" y="198.5" width="113.7" height="19.1" fill="#ec1a22" opacity="0.62"/><rect x="408.2" y="202.1" width="115.4" height="2.86" fill="#c8101a" opacity="0.85"/><rect x="429.5" y="205.6" width="79.6" height="2.71" fill="#f66a70" opacity="0.7"/><rect x="408.2" y="209.2" width="115.4" height="2.86" fill="#c8101a" opacity="0.85"/><rect x="429.5" y="212.8" width="79.6" height="2.71" fill="#f66a70" opacity="0.7"/><rect x="408.2" y="216.3" width="115.4" height="2.86" fill="#c8101a" opacity="0.85"/><rect x="429.5" y="219.9" width="79.6" height="2.71" fill="#f66a70" opacity="0.7"/><rect x="409.0" y="269.4" width="113.7" height="52.6" fill="#ec1a22" opacity="0.55"/><rect x="408.2" y="273.0" width="115.4" height="2.86" fill="#c8101a" opacity="0.85"/><rect x="429.5" y="276.6" width="79.6" height="2.71" fill="#f66a70" opacity="0.7"/><rect x="408.2" y="280.1" width="115.4" height="2.86" fill="#c8101a" opacity="0.85"/><rect x="429.5" y="283.7" width="79.6" height="2.71" fill="#f66a70" opacity="0.7"/><rect x="408.2" y="287.3" width="115.4" height="2.86" fill="#c8101a" opacity="0.85"/><rect x="429.5" y="290.8" width="79.6" height="2.71" fill="#f66a70" opacity="0.7"/><rect x="408.2" y="294.4" width="115.4" height="2.86" fill="#c8101a" opacity="0.85"/><rect x="429.5" y="298.0" width="79.6" height="2.71" fill="#f66a70" opacity="0.7"/><rect x="408.2" y="301.5" width="115.4" height="2.86" fill="#c8101a" opacity="0.85"/><rect x="429.5" y="305.1" width="79.6" height="2.71" fill="#f66a70" opacity="0.7"/><rect x="408.2" y="308.7" width="115.4" height="2.86" fill="#c8101a" opacity="0.85"/><rect x="429.5" y="312.3" width="79.6" height="2.71" fill="#f66a70" opacity="0.7"/><rect x="408.2" y="315.8" width="115.4" height="2.86" fill="#c8101a" opacity="0.85"/><rect x="429.5" y="319.4" width="79.6" height="2.71" fill="#f66a70" opacity="0.7"/><rect x="409.0" y="322.0" width="113.7" height="29.0" fill="#ec1a22" opacity="0.28"/><rect x="409.0" y="345.7" width="113.7" height="5.3" fill="#b80f18" opacity="0.55"/>
<path d="M410.4,199.5 L410.4,186.8 C410.4,175.6 418.8,170.7 434.2,170.0 L497.6,170.0 C513.0,170.7 521.4,175.6 521.4,186.8 L521.4,199.5 Q465.9,203.7 410.4,199.5 Z" fill="url(#cg6)"/>
<path d="M416.0,184.0 Q465.9,178.4 515.8,184.0" fill="none" stroke="#fbfaf2" stroke-width="3.5" opacity="0.8"/>
<rect x="1625.2" y="1324.5" width="52.0" height="201.5" fill="url(#pg5)"/>
<path d="M1536.2,1578.0 L1536.2,1604.0 A115.0,21.0 0 0 0 1766.2,1604.0 L1766.2,1578.0 Z" fill="#d6d6be"/><ellipse cx="1651.2" cy="1578.0" rx="115.0" ry="21.0" fill="#e6e6d2"/><path d="M1615.2,1525.0 Q1651.2,1518.0 1687.2,1525.0 L1687.2,1540.0 Q1693.2,1560.0 1722.5,1568.0 Q1651.2,1588.0 1579.9,1568.0 Q1609.2,1560.0 1615.2,1540.0 Z" fill="#dedec8"/><ellipse cx="1651.2" cy="1526.0" rx="36.0" ry="6.0" fill="#ecece0"/><ellipse cx="1633.2" cy="1593.0" rx="15.0" ry="5.0" fill="#cfcfb4"/><ellipse cx="1743.2" cy="1575.0" rx="13.0" ry="4.0" fill="#d2d2b8"/><ellipse cx="1557.2" cy="1573.0" rx="12.0" ry="3.5" fill="#d4d4bc"/>
<path d="M1570.0,982.0 L1732.5,982.0 L1732.5,1314.5 Q1732.5,1328.5 1718.5,1328.5 L1584.0,1328.5 Q1570.0,1328.5 1570.0,1314.5 Z" fill="url(#bg4)"/>
<rect x="1567.8" y="1014.5" width="166.9" height="7.0" fill="#e6e6d2"/><rect x="1574.8" y="1007.5" width="27.6" height="7.0" rx="1.5" fill="#9a5a48"/><rect x="1584.5" y="1007.5" width="16.6" height="3.8" fill="#fcfcfa" opacity="1.0"/><rect x="1620.3" y="1007.5" width="61.8" height="7.0" rx="1.5" fill="#7a6e60"/><rect x="1627.7" y="1007.5" width="51.3" height="3.8" fill="#fcfcfa" opacity="1.0"/><rect x="1698.3" y="1007.5" width="29.2" height="7.0" rx="1.5" fill="#b0aaa0"/><rect x="1701.2" y="1007.5" width="23.4" height="3.8" fill="#fcfcfa" opacity="1.0"/><rect x="1567.8" y="1028.4" width="166.9" height="7.0" fill="#e6e6d2"/><rect x="1574.8" y="1021.4" width="27.6" height="7.0" rx="1.5" fill="#9a5a48"/><rect x="1584.5" y="1021.4" width="16.6" height="3.8" fill="#fcfcfa" opacity="1.0"/><rect x="1620.3" y="1021.4" width="61.8" height="7.0" rx="1.5" fill="#7a6e60"/><rect x="1627.7" y="1021.4" width="51.3" height="3.8" fill="#fcfcfa" opacity="1.0"/><rect x="1698.3" y="1021.4" width="29.2" height="7.0" rx="1.5" fill="#b0aaa0"/><rect x="1701.2" y="1021.4" width="23.4" height="3.8" fill="#fcfcfa" opacity="1.0"/><rect x="1567.8" y="1042.3" width="166.9" height="7.0" fill="#e6e6d2"/><rect x="1574.8" y="1035.3" width="27.6" height="7.0" rx="1.5" fill="#9a5a48"/><rect x="1584.5" y="1035.3" width="16.6" height="3.8" fill="#fcfcfa" opacity="1.0"/><rect x="1620.3" y="1035.3" width="61.8" height="7.0" rx="1.5" fill="#7a6e60"/><rect x="1627.7" y="1035.3" width="51.3" height="3.8" fill="#fcfcfa" opacity="1.0"/><rect x="1698.3" y="1035.3" width="29.2" height="7.0" rx="1.5" fill="#b0aaa0"/><rect x="1701.2" y="1035.3" width="23.4" height="3.8" fill="#fcfcfa" opacity="1.0"/><rect x="1567.8" y="1056.2" width="166.9" height="7.0" fill="#e6e6d2"/><rect x="1574.8" y="1049.2" width="27.6" height="7.0" rx="1.5" fill="#9a5a48"/><rect x="1584.5" y="1049.2" width="16.6" height="3.8" fill="#fcfcfa" opacity="0.55"/><rect x="1620.3" y="1049.2" width="61.8" height="7.0" rx="1.5" fill="#7a6e60"/><rect x="1627.7" y="1049.2" width="51.3" height="3.8" fill="#fcfcfa" opacity="0.55"/><rect x="1698.3" y="1049.2" width="29.2" height="7.0" rx="1.5" fill="#b0aaa0"/><rect x="1701.2" y="1049.2" width="23.4" height="3.8" fill="#fcfcfa" opacity="0.55"/><rect x="1567.8" y="1070.1" width="166.9" height="7.0" fill="#e6e6d2"/><rect x="1574.8" y="1063.1" width="27.6" height="7.0" rx="1.5" fill="#9a5a48"/><rect x="1584.5" y="1063.1" width="16.6" height="3.8" fill="#fcfcfa" opacity="0.55"/><rect x="1620.3" y="1063.1" width="61.8" height="7.0" rx="1.5" fill="#7a6e60"/><rect x="1627.7" y="1063.1" width="51.3" height="3.8" fill="#fcfcfa" opacity="0.55"/><rect x="1698.3" y="1063.1" width="29.2" height="7.0" rx="1.5" fill="#b0aaa0"/><rect x="1701.2" y="1063.1" width="23.4" height="3.8" fill="#fcfcfa" opacity="0.55"/><rect x="1567.8" y="1084.0" width="166.9" height="7.0" fill="#e6e6d2"/><rect x="1574.8" y="1077.0" width="27.6" height="7.0" rx="1.5" fill="#9a5a48"/><rect x="1584.5" y="1077.0" width="16.6" height="3.8" fill="#fcfcfa" opacity="0.55"/><rect x="1620.3" y="1077.0" width="61.8" height="7.0" rx="1.5" fill="#7a6e60"/><rect x="1627.7" y="1077.0" width="51.3" height="3.8" fill="#fcfcfa" opacity="0.55"/><rect x="1698.3" y="1077.0" width="29.2" height="7.0" rx="1.5" fill="#b0aaa0"/><rect x="1701.2" y="1077.0" width="23.4" height="3.8" fill="#fcfcfa" opacity="0.55"/>
<rect x="1583.8" y="1198.4" width="140.6" height="54.4" fill="url(#lg7)"/>
<rect x="1595.0" y="1218.0" width="23.9" height="10.9" fill="#5a6a80" opacity="0.35"/><rect x="1597.8" y="1235.4" width="11.2" height="5.4" fill="#7a8aa0" opacity="0.5"/><rect x="1634.4" y="1221.2" width="45.0" height="12.0" fill="#4a5a70" opacity="0.35"/><rect x="1640.0" y="1237.6" width="35.1" height="5.4" fill="#7a8aa0" opacity="0.45"/><rect x="1699.0" y="1213.6" width="15.5" height="22.8" fill="#3a4658" opacity="0.4"/><rect x="1696.2" y="1240.8" width="22.5" height="4.9" fill="#6a7a90" opacity="0.5"/>
<rect x="1570.0" y="760.5" width="162.5" height="221.5" fill="url(#sg1)"/><rect x="1570.0" y="760.5" width="162.5" height="27.7" fill="#ec1a22" opacity="0.62"/><rect x="1568.8" y="765.6" width="164.9" height="4.08" fill="#c8101a" opacity="0.85"/><rect x="1599.2" y="770.7" width="113.7" height="3.88" fill="#f66a70" opacity="0.7"/><rect x="1568.8" y="775.8" width="164.9" height="4.08" fill="#c8101a" opacity="0.85"/><rect x="1599.2" y="780.9" width="113.7" height="3.88" fill="#f66a70" opacity="0.7"/><rect x="1568.8" y="786.0" width="164.9" height="4.08" fill="#c8101a" opacity="0.85"/><rect x="1599.2" y="791.1" width="113.7" height="3.88" fill="#f66a70" opacity="0.7"/><rect x="1570.0" y="863.5" width="162.5" height="76.4" fill="#ec1a22" opacity="0.55"/><rect x="1568.8" y="868.6" width="164.9" height="4.08" fill="#c8101a" opacity="0.85"/><rect x="1599.2" y="873.7" width="113.7" height="3.88" fill="#f66a70" opacity="0.7"/><rect x="1568.8" y="878.8" width="164.9" height="4.08" fill="#c8101a" opacity="0.85"/><rect x="1599.2" y="883.9" width="113.7" height="3.88" fill="#f66a70" opacity="0.7"/><rect x="1568.8" y="889.0" width="164.9" height="4.08" fill="#c8101a" opacity="0.85"/><rect x="1599.2" y="894.1" width="113.7" height="3.88" fill="#f66a70" opacity="0.7"/><rect x="1568.8" y="899.2" width="164.9" height="4.08" fill="#c8101a" opacity="0.85"/><rect x="1599.2" y="904.3" width="113.7" height="3.88" fill="#f66a70" opacity="0.7"/><rect x="1568.8" y="909.4" width="164.9" height="4.08" fill="#c8101a" opacity="0.85"/><rect x="1599.2" y="914.5" width="113.7" height="3.88" fill="#f66a70" opacity="0.7"/><rect x="1568.8" y="919.6" width="164.9" height="4.08" fill="#c8101a" opacity="0.85"/><rect x="1599.2" y="924.7" width="113.7" height="3.88" fill="#f66a70" opacity="0.7"/><rect x="1568.8" y="929.8" width="164.9" height="4.08" fill="#c8101a" opacity="0.85"/><rect x="1599.2" y="934.9" width="113.7" height="3.88" fill="#f66a70" opacity="0.7"/><rect x="1570.0" y="939.9" width="162.5" height="42.1" fill="#ec1a22" opacity="0.28"/><rect x="1570.0" y="974.2" width="162.5" height="7.8" fill="#b80f18" opacity="0.55"/>
<path d="M1572.0,761.5 L1572.0,740.0 C1572.0,724.0 1584.0,717.0 1606.0,716.0 L1696.5,716.0 C1718.5,717.0 1730.5,724.0 1730.5,740.0 L1730.5,761.5 Q1651.2,767.5 1572.0,761.5 Z" fill="url(#cg6)"/>
<path d="M1580.0,736.0 Q1651.2,728.0 1722.5,736.0" fill="none" stroke="#fbfaf2" stroke-width="5.0" opacity="0.8"/>
<rect x="2164.3" y="1325.4" width="52.0" height="200.6" fill="url(#pg5)"/>
<path d="M2075.3,1578.0 L2075.3,1604.0 A115.0,21.0 0 0 0 2305.3,1604.0 L2305.3,1578.0 Z" fill="#d6d6be"/><ellipse cx="2190.3" cy="1578.0" rx="115.0" ry="21.0" fill="#e6e6d2"/><path d="M2154.3,1525.0 Q2190.3,1518.0 2226.3,1525.0 L2226.3,1540.0 Q2232.3,1560.0 2261.6,1568.0 Q2190.3,1588.0 2119.0,1568.0 Q2148.3,1560.0 2154.3,1540.0 Z" fill="#dedec8"/><ellipse cx="2190.3" cy="1526.0" rx="36.0" ry="6.0" fill="#ecece0"/><ellipse cx="2172.3" cy="1593.0" rx="15.0" ry="5.0" fill="#cfcfb4"/><ellipse cx="2282.3" cy="1575.0" rx="13.0" ry="4.0" fill="#d2d2b8"/><ellipse cx="2096.3" cy="1573.0" rx="12.0" ry="3.5" fill="#d4d4bc"/>
<path d="M2108.0,980.0 L2272.7,980.0 L2272.7,1315.4 Q2272.7,1329.4 2258.7,1329.4 L2122.0,1329.4 Q2108.0,1329.4 2108.0,1315.4 Z" fill="url(#bg4)"/>
<rect x="2105.8" y="1013.9" width="169.1" height="6.9" fill="#e6e6d2"/><rect x="2126.1" y="1007.0" width="46.1" height="6.9" rx="1.5" fill="#5e5448"/><rect x="2139.0" y="1007.0" width="33.2" height="3.8" fill="#fcfcfa" opacity="1.0"/><rect x="2190.3" y="1007.0" width="57.6" height="6.9" rx="1.5" fill="#665c50"/><rect x="2226.0" y="1007.0" width="19.0" height="3.8" fill="#fcfcfa" opacity="1.0"/><rect x="2259.5" y="1007.0" width="3.3" height="6.9" rx="1.5" fill="#8a8278"/><rect x="2105.8" y="1027.7" width="169.1" height="6.9" fill="#e6e6d2"/><rect x="2126.1" y="1020.8" width="46.1" height="6.9" rx="1.5" fill="#5e5448"/><rect x="2139.0" y="1020.8" width="33.2" height="3.8" fill="#fcfcfa" opacity="1.0"/><rect x="2190.3" y="1020.8" width="57.6" height="6.9" rx="1.5" fill="#665c50"/><rect x="2226.0" y="1020.8" width="19.0" height="3.8" fill="#fcfcfa" opacity="1.0"/><rect x="2259.5" y="1020.8" width="3.3" height="6.9" rx="1.5" fill="#8a8278"/><rect x="2105.8" y="1041.5" width="169.1" height="6.9" fill="#e6e6d2"/><rect x="2126.1" y="1034.6" width="46.1" height="6.9" rx="1.5" fill="#5e5448"/><rect x="2139.0" y="1034.6" width="33.2" height="3.8" fill="#fcfcfa" opacity="1.0"/><rect x="2190.3" y="1034.6" width="57.6" height="6.9" rx="1.5" fill="#665c50"/><rect x="2226.0" y="1034.6" width="19.0" height="3.8" fill="#fcfcfa" opacity="1.0"/><rect x="2259.5" y="1034.6" width="3.3" height="6.9" rx="1.5" fill="#8a8278"/><rect x="2105.8" y="1055.4" width="169.1" height="6.9" fill="#e6e6d2"/><rect x="2126.1" y="1048.5" width="46.1" height="6.9" rx="1.5" fill="#5e5448"/><rect x="2139.0" y="1048.5" width="33.2" height="3.8" fill="#fcfcfa" opacity="0.55"/><rect x="2190.3" y="1048.5" width="57.6" height="6.9" rx="1.5" fill="#665c50"/><rect x="2226.0" y="1048.5" width="19.0" height="3.8" fill="#fcfcfa" opacity="0.55"/><rect x="2259.5" y="1048.5" width="3.3" height="6.9" rx="1.5" fill="#8a8278"/><rect x="2105.8" y="1069.2" width="169.1" height="6.9" fill="#e6e6d2"/><rect x="2126.1" y="1062.3" width="46.1" height="6.9" rx="1.5" fill="#5e5448"/><rect x="2139.0" y="1062.3" width="33.2" height="3.8" fill="#fcfcfa" opacity="0.55"/><rect x="2190.3" y="1062.3" width="57.6" height="6.9" rx="1.5" fill="#665c50"/><rect x="2226.0" y="1062.3" width="19.0" height="3.8" fill="#fcfcfa" opacity="0.55"/><rect x="2259.5" y="1062.3" width="3.3" height="6.9" rx="1.5" fill="#8a8278"/><rect x="2105.8" y="1083.0" width="169.1" height="6.9" fill="#e6e6d2"/><rect x="2126.1" y="1076.1" width="46.1" height="6.9" rx="1.5" fill="#5e5448"/><rect x="2139.0" y="1076.1" width="33.2" height="3.8" fill="#fcfcfa" opacity="0.55"/><rect x="2190.3" y="1076.1" width="57.6" height="6.9" rx="1.5" fill="#665c50"/><rect x="2226.0" y="1076.1" width="19.0" height="3.8" fill="#fcfcfa" opacity="0.55"/><rect x="2259.5" y="1076.1" width="3.3" height="6.9" rx="1.5" fill="#8a8278"/>
<rect x="2121.9" y="1201.0" width="142.5" height="54.7" fill="url(#lg7)"/>
<rect x="2133.3" y="1220.7" width="24.2" height="10.9" fill="#5a6a80" opacity="0.35"/><rect x="2136.2" y="1238.2" width="11.4" height="5.5" fill="#7a8aa0" opacity="0.5"/><rect x="2173.2" y="1224.0" width="45.6" height="12.0" fill="#4a5a70" opacity="0.35"/><rect x="2178.9" y="1240.4" width="35.6" height="5.5" fill="#7a8aa0" opacity="0.45"/><rect x="2238.8" y="1216.3" width="15.7" height="23.0" fill="#3a4658" opacity="0.4"/><rect x="2235.9" y="1243.7" width="22.8" height="4.9" fill="#6a7a90" opacity="0.5"/>
<rect x="2108.0" y="761.0" width="164.7" height="219.0" fill="url(#sg3)"/><rect x="2108.0" y="761.0" width="164.7" height="27.4" fill="#20da8e" opacity="0.62"/><rect x="2106.8" y="763.8" width="167.1" height="2.24" fill="#12b872" opacity="0.85"/><rect x="2137.6" y="766.6" width="115.3" height="2.13" fill="#7af0c4" opacity="0.7"/><rect x="2106.8" y="769.4" width="167.1" height="2.24" fill="#12b872" opacity="0.85"/><rect x="2137.6" y="772.2" width="115.3" height="2.13" fill="#7af0c4" opacity="0.7"/><rect x="2106.8" y="775.0" width="167.1" height="2.24" fill="#12b872" opacity="0.85"/><rect x="2137.6" y="777.8" width="115.3" height="2.13" fill="#7af0c4" opacity="0.7"/><rect x="2106.8" y="780.6" width="167.1" height="2.24" fill="#12b872" opacity="0.85"/><rect x="2137.6" y="783.4" width="115.3" height="2.13" fill="#7af0c4" opacity="0.7"/><rect x="2106.8" y="786.2" width="167.1" height="2.24" fill="#12b872" opacity="0.85"/><rect x="2137.6" y="789.0" width="115.3" height="2.13" fill="#7af0c4" opacity="0.7"/><rect x="2108.0" y="862.8" width="164.7" height="75.6" fill="#20da8e" opacity="0.55"/><rect x="2106.8" y="865.6" width="167.1" height="2.24" fill="#12b872" opacity="0.85"/><rect x="2137.6" y="868.4" width="115.3" height="2.13" fill="#7af0c4" opacity="0.7"/><rect x="2106.8" y="871.2" width="167.1" height="2.24" fill="#12b872" opacity="0.85"/><rect x="2137.6" y="874.0" width="115.3" height="2.13" fill="#7af0c4" opacity="0.7"/><rect x="2106.8" y="876.8" width="167.1" height="2.24" fill="#12b872" opacity="0.85"/><rect x="2137.6" y="879.6" width="115.3" height="2.13" fill="#7af0c4" opacity="0.7"/><rect x="2106.8" y="882.4" width="167.1" height="2.24" fill="#12b872" opacity="0.85"/><rect x="2137.6" y="885.2" width="115.3" height="2.13" fill="#7af0c4" opacity="0.7"/><rect x="2106.8" y="888.0" width="167.1" height="2.24" fill="#12b872" opacity="0.85"/><rect x="2137.6" y="890.8" width="115.3" height="2.13" fill="#7af0c4" opacity="0.7"/><rect x="2106.8" y="893.6" width="167.1" height="2.24" fill="#12b872" opacity="0.85"/><rect x="2137.6" y="896.4" width="115.3" height="2.13" fill="#7af0c4" opacity="0.7"/><rect x="2106.8" y="899.2" width="167.1" height="2.24" fill="#12b872" opacity="0.85"/><rect x="2137.6" y="902.0" width="115.3" height="2.13" fill="#7af0c4" opacity="0.7"/><rect x="2106.8" y="904.8" width="167.1" height="2.24" fill="#12b872" opacity="0.85"/><rect x="2137.6" y="907.6" width="115.3" height="2.13" fill="#7af0c4" opacity="0.7"/><rect x="2106.8" y="910.4" width="167.1" height="2.24" fill="#12b872" opacity="0.85"/><rect x="2137.6" y="913.2" width="115.3" height="2.13" fill="#7af0c4" opacity="0.7"/><rect x="2106.8" y="916.0" width="167.1" height="2.24" fill="#12b872" opacity="0.85"/><rect x="2137.6" y="918.8" width="115.3" height="2.13" fill="#7af0c4" opacity="0.7"/><rect x="2106.8" y="921.6" width="167.1" height="2.24" fill="#12b872" opacity="0.85"/><rect x="2137.6" y="924.4" width="115.3" height="2.13" fill="#7af0c4" opacity="0.7"/><rect x="2106.8" y="927.2" width="167.1" height="2.24" fill="#12b872" opacity="0.85"/><rect x="2137.6" y="930.0" width="115.3" height="2.13" fill="#7af0c4" opacity="0.7"/><rect x="2106.8" y="932.8" width="167.1" height="2.24" fill="#12b872" opacity="0.85"/><rect x="2137.6" y="935.6" width="115.3" height="2.13" fill="#7af0c4" opacity="0.7"/><rect x="2114.0" y="862.8" width="1.4" height="75.6" fill="#12b872" opacity="0.28"/><rect x="2120.5" y="862.8" width="1.4" height="75.6" fill="#12b872" opacity="0.28"/><rect x="2127.0" y="862.8" width="1.4" height="75.6" fill="#12b872" opacity="0.28"/><rect x="2133.5" y="862.8" width="1.4" height="75.6" fill="#12b872" opacity="0.28"/><rect x="2140.0" y="862.8" width="1.4" height="75.6" fill="#12b872" opacity="0.28"/><rect x="2146.5" y="862.8" width="1.4" height="75.6" fill="#12b872" opacity="0.28"/><rect x="2153.0" y="862.8" width="1.4" height="75.6" fill="#12b872" opacity="0.28"/><rect x="2159.5" y="862.8" width="1.4" height="75.6" fill="#12b872" opacity="0.28"/><rect x="2166.0" y="862.8" width="1.4" height="75.6" fill="#12b872" opacity="0.28"/><rect x="2172.5" y="862.8" width="1.4" height="75.6" fill="#12b872" opacity="0.28"/><rect x="2179.0" y="862.8" width="1.4" height="75.6" fill="#12b872" opacity="0.28"/><rect x="2185.5" y="862.8" width="1.4" height="75.6" fill="#12b872" opacity="0.28"/><rect x="2192.0" y="862.8" width="1.4" height="75.6" fill="#12b872" opacity="0.28"/><rect x="2198.5" y="862.8" width="1.4" height="75.6" fill="#12b872" opacity="0.28"/><rect x="2205.0" y="862.8" width="1.4" height="75.6" fill="#12b872" opacity="0.28"/><rect x="2211.5" y="862.8" width="1.4" height="75.6" fill="#12b872" opacity="0.28"/><rect x="2218.0" y="862.8" width="1.4" height="75.6" fill="#12b872" opacity="0.28"/><rect x="2224.5" y="862.8" width="1.4" height="75.6" fill="#12b872" opacity="0.28"/><rect x="2231.0" y="862.8" width="1.4" height="75.6" fill="#12b872" opacity="0.28"/><rect x="2237.5" y="862.8" width="1.4" height="75.6" fill="#12b872" opacity="0.28"/><rect x="2244.0" y="862.8" width="1.4" height="75.6" fill="#12b872" opacity="0.28"/><rect x="2250.5" y="862.8" width="1.4" height="75.6" fill="#12b872" opacity="0.28"/><rect x="2257.0" y="862.8" width="1.4" height="75.6" fill="#12b872" opacity="0.28"/><rect x="2263.5" y="862.8" width="1.4" height="75.6" fill="#12b872" opacity="0.28"/><rect x="2108.0" y="938.4" width="164.7" height="41.6" fill="#20da8e" opacity="0.28"/><rect x="2108.0" y="972.3" width="164.7" height="7.7" fill="#18c880" opacity="0.55"/>
<rect x="2108.0" y="541.0" width="164.7" height="220.0" fill="url(#sg1)"/><rect x="2108.0" y="541.0" width="164.7" height="27.5" fill="#ec1a22" opacity="0.62"/><rect x="2106.8" y="546.1" width="167.1" height="4.08" fill="#c8101a" opacity="0.85"/><rect x="2137.6" y="551.2" width="115.3" height="3.88" fill="#f66a70" opacity="0.7"/><rect x="2106.8" y="556.3" width="167.1" height="4.08" fill="#c8101a" opacity="0.85"/><rect x="2137.6" y="561.4" width="115.3" height="3.88" fill="#f66a70" opacity="0.7"/><rect x="2106.8" y="566.5" width="167.1" height="4.08" fill="#c8101a" opacity="0.85"/><rect x="2137.6" y="571.6" width="115.3" height="3.88" fill="#f66a70" opacity="0.7"/><rect x="2108.0" y="643.3" width="164.7" height="75.9" fill="#ec1a22" opacity="0.55"/><rect x="2106.8" y="648.4" width="167.1" height="4.08" fill="#c8101a" opacity="0.85"/><rect x="2137.6" y="653.5" width="115.3" height="3.88" fill="#f66a70" opacity="0.7"/><rect x="2106.8" y="658.6" width="167.1" height="4.08" fill="#c8101a" opacity="0.85"/><rect x="2137.6" y="663.7" width="115.3" height="3.88" fill="#f66a70" opacity="0.7"/><rect x="2106.8" y="668.8" width="167.1" height="4.08" fill="#c8101a" opacity="0.85"/><rect x="2137.6" y="673.9" width="115.3" height="3.88" fill="#f66a70" opacity="0.7"/><rect x="2106.8" y="679.0" width="167.1" height="4.08" fill="#c8101a" opacity="0.85"/><rect x="2137.6" y="684.1" width="115.3" height="3.88" fill="#f66a70" opacity="0.7"/><rect x="2106.8" y="689.2" width="167.1" height="4.08" fill="#c8101a" opacity="0.85"/><rect x="2137.6" y="694.3" width="115.3" height="3.88" fill="#f66a70" opacity="0.7"/><rect x="2106.8" y="699.4" width="167.1" height="4.08" fill="#c8101a" opacity="0.85"/><rect x="2137.6" y="704.5" width="115.3" height="3.88" fill="#f66a70" opacity="0.7"/><rect x="2106.8" y="709.6" width="167.1" height="4.08" fill="#c8101a" opacity="0.85"/><rect x="2137.6" y="714.7" width="115.3" height="3.88" fill="#f66a70" opacity="0.7"/><rect x="2108.0" y="719.2" width="164.7" height="41.8" fill="#ec1a22" opacity="0.28"/><rect x="2108.0" y="753.3" width="164.7" height="7.7" fill="#b80f18" opacity="0.55"/>
<path d="M2110.0,542.0 L2110.0,524.0 C2110.0,508.0 2122.0,501.0 2144.0,500.0 L2236.7,500.0 C2258.7,501.0 2270.7,508.0 2270.7,524.0 L2270.7,542.0 Q2190.3,548.0 2110.0,542.0 Z" fill="url(#cg6)"/>
<path d="M2118.0,520.0 Q2190.3,512.0 2262.7,520.0" fill="none" stroke="#fbfaf2" stroke-width="5.0" opacity="0.8"/>
<rect x="2689.2" y="1324.8" width="52.0" height="201.2" fill="url(#pg5)"/>
<path d="M2600.2,1578.0 L2600.2,1604.0 A115.0,21.0 0 0 0 2830.2,1604.0 L2830.2,1578.0 Z" fill="#d6d6be"/><ellipse cx="2715.2" cy="1578.0" rx="115.0" ry="21.0" fill="#e6e6d2"/><path d="M2679.2,1525.0 Q2715.2,1518.0 2751.2,1525.0 L2751.2,1540.0 Q2757.2,1560.0 2786.5,1568.0 Q2715.2,1588.0 2643.9,1568.0 Q2673.2,1560.0 2679.2,1540.0 Z" fill="#dedec8"/><ellipse cx="2715.2" cy="1526.0" rx="36.0" ry="6.0" fill="#ecece0"/><ellipse cx="2697.2" cy="1593.0" rx="15.0" ry="5.0" fill="#cfcfb4"/><ellipse cx="2807.2" cy="1575.0" rx="13.0" ry="4.0" fill="#d2d2b8"/><ellipse cx="2621.2" cy="1573.0" rx="12.0" ry="3.5" fill="#d4d4bc"/>
<path d="M2633.6,982.0 L2796.8,982.0 L2796.8,1314.8 Q2796.8,1328.8 2782.8,1328.8 L2647.6,1328.8 Q2633.6,1328.8 2633.6,1314.8 Z" fill="url(#bg4)"/>
<rect x="2631.4" y="1016.8" width="167.6" height="6.8" fill="#e6e6d2"/><rect x="2651.6" y="1010.0" width="45.7" height="6.8" rx="1.5" fill="#5e5448"/><rect x="2664.3" y="1010.0" width="32.9" height="3.8" fill="#fcfcfa" opacity="1.0"/><rect x="2715.2" y="1010.0" width="57.1" height="6.8" rx="1.5" fill="#665c50"/><rect x="2750.6" y="1010.0" width="18.8" height="3.8" fill="#fcfcfa" opacity="1.0"/><rect x="2783.7" y="1010.0" width="3.3" height="6.8" rx="1.5" fill="#8a8278"/><rect x="2631.4" y="1030.5" width="167.6" height="6.8" fill="#e6e6d2"/><rect x="2651.6" y="1023.6" width="45.7" height="6.8" rx="1.5" fill="#5e5448"/><rect x="2664.3" y="1023.6" width="32.9" height="3.8" fill="#fcfcfa" opacity="1.0"/><rect x="2715.2" y="1023.6" width="57.1" height="6.8" rx="1.5" fill="#665c50"/><rect x="2750.6" y="1023.6" width="18.8" height="3.8" fill="#fcfcfa" opacity="1.0"/><rect x="2783.7" y="1023.6" width="3.3" height="6.8" rx="1.5" fill="#8a8278"/><rect x="2631.4" y="1044.1" width="167.6" height="6.8" fill="#e6e6d2"/><rect x="2651.6" y="1037.3" width="45.7" height="6.8" rx="1.5" fill="#5e5448"/><rect x="2664.3" y="1037.3" width="32.9" height="3.8" fill="#fcfcfa" opacity="1.0"/><rect x="2715.2" y="1037.3" width="57.1" height="6.8" rx="1.5" fill="#665c50"/><rect x="2750.6" y="1037.3" width="18.8" height="3.8" fill="#fcfcfa" opacity="1.0"/><rect x="2783.7" y="1037.3" width="3.3" height="6.8" rx="1.5" fill="#8a8278"/><rect x="2631.4" y="1057.7" width="167.6" height="6.8" fill="#e6e6d2"/><rect x="2651.6" y="1050.9" width="45.7" height="6.8" rx="1.5" fill="#5e5448"/><rect x="2664.3" y="1050.9" width="32.9" height="3.8" fill="#fcfcfa" opacity="0.55"/><rect x="2715.2" y="1050.9" width="57.1" height="6.8" rx="1.5" fill="#665c50"/><rect x="2750.6" y="1050.9" width="18.8" height="3.8" fill="#fcfcfa" opacity="0.55"/><rect x="2783.7" y="1050.9" width="3.3" height="6.8" rx="1.5" fill="#8a8278"/><rect x="2631.4" y="1071.4" width="167.6" height="6.8" fill="#e6e6d2"/><rect x="2651.6" y="1064.5" width="45.7" height="6.8" rx="1.5" fill="#5e5448"/><rect x="2664.3" y="1064.5" width="32.9" height="3.8" fill="#fcfcfa" opacity="0.55"/><rect x="2715.2" y="1064.5" width="57.1" height="6.8" rx="1.5" fill="#665c50"/><rect x="2750.6" y="1064.5" width="18.8" height="3.8" fill="#fcfcfa" opacity="0.55"/><rect x="2783.7" y="1064.5" width="3.3" height="6.8" rx="1.5" fill="#8a8278"/><rect x="2631.4" y="1085.0" width="167.6" height="6.8" fill="#e6e6d2"/><rect x="2651.6" y="1078.2" width="45.7" height="6.8" rx="1.5" fill="#5e5448"/><rect x="2664.3" y="1078.2" width="32.9" height="3.8" fill="#fcfcfa" opacity="0.55"/><rect x="2715.2" y="1078.2" width="57.1" height="6.8" rx="1.5" fill="#665c50"/><rect x="2750.6" y="1078.2" width="18.8" height="3.8" fill="#fcfcfa" opacity="0.55"/><rect x="2783.7" y="1078.2" width="3.3" height="6.8" rx="1.5" fill="#8a8278"/>
<rect x="2638.5" y="1201.5" width="142.8" height="54.0" fill="url(#lg7)"/>
<rect x="2649.9" y="1220.9" width="24.3" height="10.8" fill="#5a6a80" opacity="0.35"/><rect x="2652.8" y="1238.2" width="11.4" height="5.4" fill="#7a8aa0" opacity="0.5"/><rect x="2689.9" y="1224.2" width="45.7" height="11.9" fill="#4a5a70" opacity="0.35"/><rect x="2695.6" y="1240.4" width="35.7" height="5.4" fill="#7a8aa0" opacity="0.45"/><rect x="2755.6" y="1216.6" width="15.7" height="22.7" fill="#3a4658" opacity="0.4"/><rect x="2752.7" y="1243.6" width="22.8" height="4.9" fill="#6a7a90" opacity="0.5"/>
<rect x="2633.6" y="763.6" width="163.2" height="218.4" fill="url(#sg3)"/><rect x="2633.6" y="763.6" width="163.2" height="27.3" fill="#20da8e" opacity="0.62"/><rect x="2632.4" y="766.4" width="165.6" height="2.24" fill="#12b872" opacity="0.85"/><rect x="2663.0" y="769.2" width="114.2" height="2.13" fill="#7af0c4" opacity="0.7"/><rect x="2632.4" y="772.0" width="165.6" height="2.24" fill="#12b872" opacity="0.85"/><rect x="2663.0" y="774.8" width="114.2" height="2.13" fill="#7af0c4" opacity="0.7"/><rect x="2632.4" y="777.6" width="165.6" height="2.24" fill="#12b872" opacity="0.85"/><rect x="2663.0" y="780.4" width="114.2" height="2.13" fill="#7af0c4" opacity="0.7"/><rect x="2632.4" y="783.2" width="165.6" height="2.24" fill="#12b872" opacity="0.85"/><rect x="2663.0" y="786.0" width="114.2" height="2.13" fill="#7af0c4" opacity="0.7"/><rect x="2632.4" y="788.8" width="165.6" height="2.24" fill="#12b872" opacity="0.85"/><rect x="2663.0" y="791.6" width="114.2" height="2.13" fill="#7af0c4" opacity="0.7"/><rect x="2633.6" y="865.2" width="163.2" height="75.3" fill="#20da8e" opacity="0.55"/><rect x="2632.4" y="868.0" width="165.6" height="2.24" fill="#12b872" opacity="0.85"/><rect x="2663.0" y="870.8" width="114.2" height="2.13" fill="#7af0c4" opacity="0.7"/><rect x="2632.4" y="873.6" width="165.6" height="2.24" fill="#12b872" opacity="0.85"/><rect x="2663.0" y="876.4" width="114.2" height="2.13" fill="#7af0c4" opacity="0.7"/><rect x="2632.4" y="879.2" width="165.6" height="2.24" fill="#12b872" opacity="0.85"/><rect x="2663.0" y="882.0" width="114.2" height="2.13" fill="#7af0c4" opacity="0.7"/><rect x="2632.4" y="884.8" width="165.6" height="2.24" fill="#12b872" opacity="0.85"/><rect x="2663.0" y="887.6" width="114.2" height="2.13" fill="#7af0c4" opacity="0.7"/><rect x="2632.4" y="890.4" width="165.6" height="2.24" fill="#12b872" opacity="0.85"/><rect x="2663.0" y="893.2" width="114.2" height="2.13" fill="#7af0c4" opacity="0.7"/><rect x="2632.4" y="896.0" width="165.6" height="2.24" fill="#12b872" opacity="0.85"/><rect x="2663.0" y="898.8" width="114.2" height="2.13" fill="#7af0c4" opacity="0.7"/><rect x="2632.4" y="901.6" width="165.6" height="2.24" fill="#12b872" opacity="0.85"/><rect x="2663.0" y="904.4" width="114.2" height="2.13" fill="#7af0c4" opacity="0.7"/><rect x="2632.4" y="907.2" width="165.6" height="2.24" fill="#12b872" opacity="0.85"/><rect x="2663.0" y="910.0" width="114.2" height="2.13" fill="#7af0c4" opacity="0.7"/><rect x="2632.4" y="912.8" width="165.6" height="2.24" fill="#12b872" opacity="0.85"/><rect x="2663.0" y="915.6" width="114.2" height="2.13" fill="#7af0c4" opacity="0.7"/><rect x="2632.4" y="918.4" width="165.6" height="2.24" fill="#12b872" opacity="0.85"/><rect x="2663.0" y="921.2" width="114.2" height="2.13" fill="#7af0c4" opacity="0.7"/><rect x="2632.4" y="924.0" width="165.6" height="2.24" fill="#12b872" opacity="0.85"/><rect x="2663.0" y="926.8" width="114.2" height="2.13" fill="#7af0c4" opacity="0.7"/><rect x="2632.4" y="929.6" width="165.6" height="2.24" fill="#12b872" opacity="0.85"/><rect x="2663.0" y="932.4" width="114.2" height="2.13" fill="#7af0c4" opacity="0.7"/><rect x="2632.4" y="935.2" width="165.6" height="2.24" fill="#12b872" opacity="0.85"/><rect x="2663.0" y="938.0" width="114.2" height="2.13" fill="#7af0c4" opacity="0.7"/><rect x="2639.6" y="865.2" width="1.4" height="75.3" fill="#12b872" opacity="0.28"/><rect x="2646.1" y="865.2" width="1.4" height="75.3" fill="#12b872" opacity="0.28"/><rect x="2652.6" y="865.2" width="1.4" height="75.3" fill="#12b872" opacity="0.28"/><rect x="2659.1" y="865.2" width="1.4" height="75.3" fill="#12b872" opacity="0.28"/><rect x="2665.6" y="865.2" width="1.4" height="75.3" fill="#12b872" opacity="0.28"/><rect x="2672.1" y="865.2" width="1.4" height="75.3" fill="#12b872" opacity="0.28"/><rect x="2678.6" y="865.2" width="1.4" height="75.3" fill="#12b872" opacity="0.28"/><rect x="2685.1" y="865.2" width="1.4" height="75.3" fill="#12b872" opacity="0.28"/><rect x="2691.6" y="865.2" width="1.4" height="75.3" fill="#12b872" opacity="0.28"/><rect x="2698.1" y="865.2" width="1.4" height="75.3" fill="#12b872" opacity="0.28"/><rect x="2704.6" y="865.2" width="1.4" height="75.3" fill="#12b872" opacity="0.28"/><rect x="2711.1" y="865.2" width="1.4" height="75.3" fill="#12b872" opacity="0.28"/><rect x="2717.6" y="865.2" width="1.4" height="75.3" fill="#12b872" opacity="0.28"/><rect x="2724.1" y="865.2" width="1.4" height="75.3" fill="#12b872" opacity="0.28"/><rect x="2730.6" y="865.2" width="1.4" height="75.3" fill="#12b872" opacity="0.28"/><rect x="2737.1" y="865.2" width="1.4" height="75.3" fill="#12b872" opacity="0.28"/><rect x="2743.6" y="865.2" width="1.4" height="75.3" fill="#12b872" opacity="0.28"/><rect x="2750.1" y="865.2" width="1.4" height="75.3" fill="#12b872" opacity="0.28"/><rect x="2756.6" y="865.2" width="1.4" height="75.3" fill="#12b872" opacity="0.28"/><rect x="2763.1" y="865.2" width="1.4" height="75.3" fill="#12b872" opacity="0.28"/><rect x="2769.6" y="865.2" width="1.4" height="75.3" fill="#12b872" opacity="0.28"/><rect x="2776.1" y="865.2" width="1.4" height="75.3" fill="#12b872" opacity="0.28"/><rect x="2782.6" y="865.2" width="1.4" height="75.3" fill="#12b872" opacity="0.28"/><rect x="2789.1" y="865.2" width="1.4" height="75.3" fill="#12b872" opacity="0.28"/><rect x="2633.6" y="940.5" width="163.2" height="41.5" fill="#20da8e" opacity="0.28"/><rect x="2633.6" y="974.4" width="163.2" height="7.6" fill="#18c880" opacity="0.55"/>
<rect x="2633.6" y="550.0" width="163.2" height="213.6" fill="url(#sg2)"/><rect x="2633.6" y="550.0" width="163.2" height="26.7" fill="#f4a21e" opacity="0.62"/><rect x="2632.4" y="553.3" width="165.6" height="2.64" fill="#e08a14" opacity="0.85"/><rect x="2663.0" y="556.6" width="114.2" height="2.51" fill="#fdd070" opacity="0.7"/><rect x="2632.4" y="559.9" width="165.6" height="2.64" fill="#e08a14" opacity="0.85"/><rect x="2663.0" y="563.2" width="114.2" height="2.51" fill="#fdd070" opacity="0.7"/><rect x="2632.4" y="566.5" width="165.6" height="2.64" fill="#e08a14" opacity="0.85"/><rect x="2663.0" y="569.8" width="114.2" height="2.51" fill="#fdd070" opacity="0.7"/><rect x="2632.4" y="573.1" width="165.6" height="2.64" fill="#e08a14" opacity="0.85"/><rect x="2663.0" y="576.4" width="114.2" height="2.51" fill="#fdd070" opacity="0.7"/><rect x="2633.6" y="649.3" width="163.2" height="73.7" fill="#f4a21e" opacity="0.55"/><rect x="2632.4" y="652.6" width="165.6" height="2.64" fill="#e08a14" opacity="0.85"/><rect x="2663.0" y="655.9" width="114.2" height="2.51" fill="#fdd070" opacity="0.7"/><rect x="2632.4" y="659.2" width="165.6" height="2.64" fill="#e08a14" opacity="0.85"/><rect x="2663.0" y="662.5" width="114.2" height="2.51" fill="#fdd070" opacity="0.7"/><rect x="2632.4" y="665.8" width="165.6" height="2.64" fill="#e08a14" opacity="0.85"/><rect x="2663.0" y="669.1" width="114.2" height="2.51" fill="#fdd070" opacity="0.7"/><rect x="2632.4" y="672.4" width="165.6" height="2.64" fill="#e08a14" opacity="0.85"/><rect x="2663.0" y="675.7" width="114.2" height="2.51" fill="#fdd070" opacity="0.7"/><rect x="2632.4" y="679.0" width="165.6" height="2.64" fill="#e08a14" opacity="0.85"/><rect x="2663.0" y="682.3" width="114.2" height="2.51" fill="#fdd070" opacity="0.7"/><rect x="2632.4" y="685.6" width="165.6" height="2.64" fill="#e08a14" opacity="0.85"/><rect x="2663.0" y="688.9" width="114.2" height="2.51" fill="#fdd070" opacity="0.7"/><rect x="2632.4" y="692.2" width="165.6" height="2.64" fill="#e08a14" opacity="0.85"/><rect x="2663.0" y="695.5" width="114.2" height="2.51" fill="#fdd070" opacity="0.7"/><rect x="2632.4" y="698.8" width="165.6" height="2.64" fill="#e08a14" opacity="0.85"/><rect x="2663.0" y="702.1" width="114.2" height="2.51" fill="#fdd070" opacity="0.7"/><rect x="2632.4" y="705.4" width="165.6" height="2.64" fill="#e08a14" opacity="0.85"/><rect x="2663.0" y="708.7" width="114.2" height="2.51" fill="#fdd070" opacity="0.7"/><rect x="2632.4" y="712.0" width="165.6" height="2.64" fill="#e08a14" opacity="0.85"/><rect x="2663.0" y="715.3" width="114.2" height="2.51" fill="#fdd070" opacity="0.7"/><rect x="2632.4" y="718.6" width="165.6" height="2.64" fill="#e08a14" opacity="0.85"/><rect x="2663.0" y="721.9" width="114.2" height="2.51" fill="#fdd070" opacity="0.7"/><rect x="2639.6" y="649.3" width="1.4" height="73.7" fill="#e08a14" opacity="0.28"/><rect x="2646.1" y="649.3" width="1.4" height="73.7" fill="#e08a14" opacity="0.28"/><rect x="2652.6" y="649.3" width="1.4" height="73.7" fill="#e08a14" opacity="0.28"/><rect x="2659.1" y="649.3" width="1.4" height="73.7" fill="#e08a14" opacity="0.28"/><rect x="2665.6" y="649.3" width="1.4" height="73.7" fill="#e08a14" opacity="0.28"/><rect x="2672.1" y="649.3" width="1.4" height="73.7" fill="#e08a14" opacity="0.28"/><rect x="2678.6" y="649.3" width="1.4" height="73.7" fill="#e08a14" opacity="0.28"/><rect x="2685.1" y="649.3" width="1.4" height="73.7" fill="#e08a14" opacity="0.28"/><rect x="2691.6" y="649.3" width="1.4" height="73.7" fill="#e08a14" opacity="0.28"/><rect x="2698.1" y="649.3" width="1.4" height="73.7" fill="#e08a14" opacity="0.28"/><rect x="2704.6" y="649.3" width="1.4" height="73.7" fill="#e08a14" opacity="0.28"/><rect x="2711.1" y="649.3" width="1.4" height="73.7" fill="#e08a14" opacity="0.28"/><rect x="2717.6" y="649.3" width="1.4" height="73.7" fill="#e08a14" opacity="0.28"/><rect x="2724.1" y="649.3" width="1.4" height="73.7" fill="#e08a14" opacity="0.28"/><rect x="2730.6" y="649.3" width="1.4" height="73.7" fill="#e08a14" opacity="0.28"/><rect x="2737.1" y="649.3" width="1.4" height="73.7" fill="#e08a14" opacity="0.28"/><rect x="2743.6" y="649.3" width="1.4" height="73.7" fill="#e08a14" opacity="0.28"/><rect x="2750.1" y="649.3" width="1.4" height="73.7" fill="#e08a14" opacity="0.28"/><rect x="2756.6" y="649.3" width="1.4" height="73.7" fill="#e08a14" opacity="0.28"/><rect x="2763.1" y="649.3" width="1.4" height="73.7" fill="#e08a14" opacity="0.28"/><rect x="2769.6" y="649.3" width="1.4" height="73.7" fill="#e08a14" opacity="0.28"/><rect x="2776.1" y="649.3" width="1.4" height="73.7" fill="#e08a14" opacity="0.28"/><rect x="2782.6" y="649.3" width="1.4" height="73.7" fill="#e08a14" opacity="0.28"/><rect x="2789.1" y="649.3" width="1.4" height="73.7" fill="#e08a14" opacity="0.28"/><rect x="2633.6" y="723.0" width="163.2" height="40.6" fill="#f4a21e" opacity="0.28"/><rect x="2633.6" y="756.1" width="163.2" height="7.5" fill="#c8a010" opacity="0.55"/><rect x="2633.6" y="747.6" width="163.2" height="16.0" fill="#e6c21a" opacity="0.85"/><rect x="2638.5" y="747.6" width="14.7" height="16.0" fill="#b89a10" opacity="0.8"/><rect x="2710.3" y="747.6" width="14.7" height="16.0" fill="#b89a10" opacity="0.8"/><rect x="2777.2" y="747.6" width="14.7" height="16.0" fill="#b89a10" opacity="0.8"/>
<rect x="2633.6" y="332.0" width="163.2" height="218.0" fill="url(#sg1)"/><rect x="2633.6" y="332.0" width="163.2" height="27.2" fill="#ec1a22" opacity="0.62"/><rect x="2632.4" y="337.1" width="165.6" height="4.08" fill="#c8101a" opacity="0.85"/><rect x="2663.0" y="342.2" width="114.2" height="3.88" fill="#f66a70" opacity="0.7"/><rect x="2632.4" y="347.3" width="165.6" height="4.08" fill="#c8101a" opacity="0.85"/><rect x="2663.0" y="352.4" width="114.2" height="3.88" fill="#f66a70" opacity="0.7"/><rect x="2632.4" y="357.5" width="165.6" height="4.08" fill="#c8101a" opacity="0.85"/><rect x="2663.0" y="362.6" width="114.2" height="3.88" fill="#f66a70" opacity="0.7"/><rect x="2633.6" y="433.4" width="163.2" height="75.2" fill="#ec1a22" opacity="0.55"/><rect x="2632.4" y="438.5" width="165.6" height="4.08" fill="#c8101a" opacity="0.85"/><rect x="2663.0" y="443.6" width="114.2" height="3.88" fill="#f66a70" opacity="0.7"/><rect x="2632.4" y="448.7" width="165.6" height="4.08" fill="#c8101a" opacity="0.85"/><rect x="2663.0" y="453.8" width="114.2" height="3.88" fill="#f66a70" opacity="0.7"/><rect x="2632.4" y="458.9" width="165.6" height="4.08" fill="#c8101a" opacity="0.85"/><rect x="2663.0" y="464.0" width="114.2" height="3.88" fill="#f66a70" opacity="0.7"/><rect x="2632.4" y="469.1" width="165.6" height="4.08" fill="#c8101a" opacity="0.85"/><rect x="2663.0" y="474.2" width="114.2" height="3.88" fill="#f66a70" opacity="0.7"/><rect x="2632.4" y="479.3" width="165.6" height="4.08" fill="#c8101a" opacity="0.85"/><rect x="2663.0" y="484.4" width="114.2" height="3.88" fill="#f66a70" opacity="0.7"/><rect x="2632.4" y="489.5" width="165.6" height="4.08" fill="#c8101a" opacity="0.85"/><rect x="2663.0" y="494.6" width="114.2" height="3.88" fill="#f66a70" opacity="0.7"/><rect x="2632.4" y="499.7" width="165.6" height="4.08" fill="#c8101a" opacity="0.85"/><rect x="2663.0" y="504.8" width="114.2" height="3.88" fill="#f66a70" opacity="0.7"/><rect x="2633.6" y="508.6" width="163.2" height="41.4" fill="#ec1a22" opacity="0.28"/><rect x="2633.6" y="542.4" width="163.2" height="7.6" fill="#b80f18" opacity="0.55"/>
<path d="M2635.6,333.0 L2635.6,313.0 C2635.6,297.0 2647.6,290.0 2669.6,289.0 L2760.8,289.0 C2782.8,290.0 2794.8,297.0 2794.8,313.0 L2794.8,333.0 Q2715.2,339.0 2635.6,333.0 Z" fill="url(#cg6)"/>
<path d="M2643.6,309.0 Q2715.2,301.0 2786.8,309.0" fill="none" stroke="#fbfaf2" stroke-width="5.0" opacity="0.8"/>
<line x1="1569" y1="649" x2="1569" y2="762.5" stroke="#111" stroke-width="2.6"/>
<line x1="1732.5" y1="649" x2="1732.5" y2="762.5" stroke="#111" stroke-width="2.6"/>
<line x1="1593.0" y1="689" x2="1708.5" y2="689" stroke="#111" stroke-width="2.6"/>
<polygon points="1577,689 1597,683.8 1597,694.2" fill="#111"/><polygon points="1724.5,689 1704.5,683.8 1704.5,694.2" fill="#111"/>
<text x="1582.7" y="641.3" font-family="Liberation Sans" font-size="50" fill="#1a1a1a" stroke="#fff" stroke-width="1.3" textLength="137.4" lengthAdjust="spacingAndGlyphs">50MM</text>
<line x1="1409" y1="714.3" x2="1648" y2="714.3" stroke="#111" stroke-width="2.6"/>
<line x1="1509" y1="1337" x2="1648" y2="1337" stroke="#111" stroke-width="2.6"/>
<line x1="1409.5" y1="1627" x2="1648.5" y2="1627" stroke="#111" stroke-width="2.6"/>
<line x1="1461" y1="737.5" x2="1461" y2="1603.8" stroke="#111" stroke-width="2.6"/>
<polygon points="1461,722.3 1455.6,741.3 1466.4,741.3" fill="#111"/><polygon points="1461,1619 1455.6,1600 1466.4,1600" fill="#111"/>
<line x1="1539" y1="737.5" x2="1539" y2="1313.8" stroke="#111" stroke-width="2.6"/>
<polygon points="1539,722.3 1533.6,741.3 1544.4,741.3" fill="#111"/><polygon points="1539,1329 1533.6,1310 1544.4,1310" fill="#111"/>
<text transform="translate(1446.8,1260.5) rotate(-90)" font-family="Liberation Sans" font-size="55" fill="#1a1a1a" stroke="#fff" stroke-width="1.3" textLength="167" lengthAdjust="spacingAndGlyphs">265MM</text>
<text transform="translate(1527.5,1145) rotate(-90)" font-family="Liberation Sans" font-size="55" fill="#1a1a1a" stroke="#fff" stroke-width="1.3" textLength="163" lengthAdjust="spacingAndGlyphs">182MM</text>
<line x1="1535.7" y1="1520.5" x2="1535.7" y2="1603" stroke="#111" stroke-width="2.6"/>
<line x1="1768.2" y1="1520.5" x2="1768.2" y2="1603" stroke="#111" stroke-width="2.6"/>
<line x1="1559.3" y1="1563" x2="1743.6000000000001" y2="1563" stroke="#111" stroke-width="2.6"/>
<polygon points="1541.7,1563 1563.7,1557.4 1563.7,1568.6" fill="#111"/><polygon points="1761.2,1563 1739.2,1557.4 1739.2,1568.6" fill="#111"/>
<text x="1581.7" y="1511.3" font-family="Liberation Sans" font-size="50" fill="#1a1a1a" stroke="#fff" stroke-width="1.3" textLength="137" lengthAdjust="spacingAndGlyphs">70MM</text>
<line x1="2109" y1="430.6" x2="2109" y2="544.7" stroke="#111" stroke-width="2.6"/>
<line x1="2272.7" y1="430.6" x2="2272.7" y2="544.7" stroke="#111" stroke-width="2.6"/>
<line x1="2133.0" y1="473" x2="2248.7" y2="473" stroke="#111" stroke-width="2.6"/>
<polygon points="2117,473 2137,467.8 2137,478.2" fill="#111"/><polygon points="2264.7,473 2244.7,467.8 2244.7,478.2" fill="#111"/>
<text x="2121.8" y="425.5" font-family="Liberation Sans" font-size="50" fill="#1a1a1a" stroke="#fff" stroke-width="1.3" textLength="137.4" lengthAdjust="spacingAndGlyphs">50MM</text>
<line x1="1952" y1="498" x2="2191" y2="498" stroke="#111" stroke-width="2.6"/>
<line x1="2050.6" y1="1337" x2="2191" y2="1337" stroke="#111" stroke-width="2.6"/>
<line x1="1952.4" y1="1627" x2="2191.5" y2="1627" stroke="#111" stroke-width="2.6"/>
<line x1="2006" y1="521.2" x2="2006" y2="1603.8" stroke="#111" stroke-width="2.6"/>
<polygon points="2006,506 2000.6,525 2011.4,525" fill="#111"/><polygon points="2006,1619 2000.6,1600 2011.4,1600" fill="#111"/>
<line x1="2082" y1="521.2" x2="2082" y2="1313.8" stroke="#111" stroke-width="2.6"/>
<polygon points="2082,506 2076.6,525 2087.4,525" fill="#111"/><polygon points="2082,1329 2076.6,1310 2087.4,1310" fill="#111"/>
<text transform="translate(1989.6,1151) rotate(-90)" font-family="Liberation Sans" font-size="55" fill="#1a1a1a" stroke="#fff" stroke-width="1.3" textLength="165" lengthAdjust="spacingAndGlyphs">330MM</text>
<text transform="translate(2069,1036) rotate(-90)" font-family="Liberation Sans" font-size="55" fill="#1a1a1a" stroke="#fff" stroke-width="1.3" textLength="165" lengthAdjust="spacingAndGlyphs">245MM</text>
<line x1="2074.8" y1="1520.5" x2="2074.8" y2="1603" stroke="#111" stroke-width="2.6"/>
<line x1="2307.3" y1="1520.5" x2="2307.3" y2="1603" stroke="#111" stroke-width="2.6"/>
<line x1="2098.4" y1="1563" x2="2282.7000000000003" y2="1563" stroke="#111" stroke-width="2.6"/>
<polygon points="2080.8,1563 2102.8,1557.4 2102.8,1568.6" fill="#111"/><polygon points="2300.3,1563 2278.3,1557.4 2278.3,1568.6" fill="#111"/>
<text x="2120.8" y="1511.3" font-family="Liberation Sans" font-size="50" fill="#1a1a1a" stroke="#fff" stroke-width="1.3" textLength="137" lengthAdjust="spacingAndGlyphs">70MM</text>
<line x1="2633.4" y1="221.5" x2="2633.4" y2="335.7" stroke="#111" stroke-width="2.6"/>
<line x1="2796" y1="221.5" x2="2796" y2="335.7" stroke="#111" stroke-width="2.6"/>
<line x1="2657.4" y1="265.8" x2="2772.0" y2="265.8" stroke="#111" stroke-width="2.6"/>
<polygon points="2641.4,265.8 2661.4,260.6 2661.4,271.0" fill="#111"/><polygon points="2788,265.8 2768,260.6 2768,271.0" fill="#111"/>
<text x="2646.7" y="213.6" font-family="Liberation Sans" font-size="50" fill="#1a1a1a" stroke="#fff" stroke-width="1.3" textLength="137.4" lengthAdjust="spacingAndGlyphs">50MM</text>
<line x1="2474" y1="286.3" x2="2712.8" y2="286.3" stroke="#111" stroke-width="2.6"/>
<line x1="2572.7" y1="1337" x2="2712.8" y2="1337" stroke="#111" stroke-width="2.6"/>
<line x1="2474.5" y1="1627" x2="2713.3" y2="1627" stroke="#111" stroke-width="2.6"/>
<line x1="2530.5" y1="309.5" x2="2530.5" y2="1603.8" stroke="#111" stroke-width="2.6"/>
<polygon points="2530.5,294.3 2525.1,313.3 2535.9,313.3" fill="#111"/><polygon points="2530.5,1619 2525.1,1600 2535.9,1600" fill="#111"/>
<line x1="2608.6" y1="309.5" x2="2608.6" y2="1313.8" stroke="#111" stroke-width="2.6"/>
<polygon points="2608.6,294.3 2603.2,313.3 2614.0,313.3" fill="#111"/><polygon points="2608.6,1329 2603.2,1310 2614.0,1310" fill="#111"/>
<text transform="translate(2514.5,982) rotate(-90)" font-family="Liberation Sans" font-size="55" fill="#1a1a1a" stroke="#fff" stroke-width="1.3" textLength="167" lengthAdjust="spacingAndGlyphs">395MM</text>
<text transform="translate(2594,869) rotate(-90)" font-family="Liberation Sans" font-size="55" fill="#1a1a1a" stroke="#fff" stroke-width="1.3" textLength="166" lengthAdjust="spacingAndGlyphs">310MM</text>
<line x1="2599.7" y1="1520.5" x2="2599.7" y2="1603" stroke="#111" stroke-width="2.6"/>
<line x1="2832.2" y1="1520.5" x2="2832.2" y2="1603" stroke="#111" stroke-width="2.6"/>
<line x1="2623.2999999999997" y1="1563" x2="2807.6" y2="1563" stroke="#111" stroke-width="2.6"/>
<polygon points="2605.7,1563 2627.7,1557.4 2627.7,1568.6" fill="#111"/><polygon points="2825.2,1563 2803.2,1557.4 2803.2,1568.6" fill="#111"/>
<text x="2645.7" y="1511.3" font-family="Liberation Sans" font-size="50" fill="#1a1a1a" stroke="#fff" stroke-width="1.3" textLength="137" lengthAdjust="spacingAndGlyphs">70MM</text>
<g clip-path="url(#photoclip)" style="isolation:isolate"><rect x="3139" y="147.7" width="830.5" height="528.8" fill="#020203"/><ellipse cx="3409.7" cy="231.8" rx="185.8" ry="75.2" fill="#0b3a26" opacity="0.9" filter="url(#bl40)" style="mix-blend-mode:screen"/><ellipse cx="3462.8" cy="315.8" rx="115.0" ry="88.5" fill="#0d5a8a" opacity="0.75" filter="url(#bl40)" style="mix-blend-mode:screen"/><ellipse cx="3285.8" cy="439.7" rx="88.5" ry="146.0" fill="#041a2e" opacity="0.9" filter="url(#bl40)" style="mix-blend-mode:screen"/><ellipse cx="3608.8" cy="245.0" rx="57.5" ry="97.3" fill="#5c5c00" opacity="0.85" filter="url(#bl40)" style="mix-blend-mode:screen"/><ellipse cx="3728.3" cy="276.0" rx="53.1" ry="88.5" fill="#6a0800" opacity="0.8" filter="url(#bl40)" style="mix-blend-mode:screen"/><ellipse cx="3502.7" cy="497.3" rx="150.4" ry="132.7" fill="#18d8e8" opacity="0.95" filter="url(#bl40)" style="mix-blend-mode:screen"/><ellipse cx="3471.7" cy="413.2" rx="101.8" ry="75.2" fill="#14a8c8" opacity="0.7" filter="url(#bl40)" style="mix-blend-mode:screen"/><ellipse cx="3436.3" cy="377.8" rx="88.5" ry="66.4" fill="#2090d0" opacity="0.6" filter="url(#bl40)" style="mix-blend-mode:screen"/><ellipse cx="3533.6" cy="585.8" rx="146.0" ry="84.1" fill="#22d0f0" opacity="0.95" filter="url(#bl40)" style="mix-blend-mode:screen"/><ellipse cx="3542.5" cy="630.0" rx="115.0" ry="48.7" fill="#1cb8e0" opacity="0.7" filter="url(#bl40)" style="mix-blend-mode:screen"/><ellipse cx="3454.0" cy="413.2" rx="66.4" ry="44.2" fill="#30c8f0" opacity="0.45" filter="url(#bl22)" style="mix-blend-mode:screen"/><ellipse cx="3626.5" cy="395.5" rx="53.1" ry="123.9" fill="#f4e400" opacity="0.95" filter="url(#bl40)" style="mix-blend-mode:screen"/><ellipse cx="3631.0" cy="439.7" rx="44.2" ry="53.1" fill="#fff040" opacity="0.8" filter="url(#bl22)" style="mix-blend-mode:screen"/><ellipse cx="3670.8" cy="550.4" rx="92.9" ry="75.2" fill="#f0dc00" opacity="0.9" filter="url(#bl22)" style="mix-blend-mode:screen"/><ellipse cx="3688.5" cy="607.9" rx="75.2" ry="48.7" fill="#b0a000" opacity="0.7" filter="url(#bl40)" style="mix-blend-mode:screen"/><ellipse cx="3622.1" cy="324.7" rx="35.4" ry="53.1" fill="#e8e000" opacity="0.6" filter="url(#bl22)" style="mix-blend-mode:screen"/><ellipse cx="3750.4" cy="377.8" rx="79.6" ry="92.9" fill="#ff2400" opacity="0.9" filter="url(#bl40)" style="mix-blend-mode:screen"/><ellipse cx="3754.9" cy="404.3" rx="53.1" ry="48.7" fill="#ff3000" opacity="0.8" filter="url(#bl22)" style="mix-blend-mode:screen"/><ellipse cx="3790.3" cy="515.0" rx="97.3" ry="75.2" fill="#f01800" opacity="0.9" filter="url(#bl22)" style="mix-blend-mode:screen"/><ellipse cx="3852.2" cy="563.6" rx="48.7" ry="57.5" fill="#a00800" opacity="0.7" filter="url(#bl22)" style="mix-blend-mode:screen"/><ellipse cx="3692.9" cy="338.0" rx="26.5" ry="39.8" fill="#ff3000" opacity="0.7" filter="url(#bl22)" style="mix-blend-mode:screen"/><ellipse cx="3524.8" cy="554.8" rx="115.0" ry="26.5" fill="#c8ffff" opacity="0.9" filter="url(#bl22)" transform="rotate(-14.4 3524.8 554.8)" style="mix-blend-mode:screen"/><ellipse cx="3542.5" cy="599.0" rx="106.2" ry="22.1" fill="#40e0ff" opacity="0.8" filter="url(#bl22)" transform="rotate(-14.4 3542.5 599.0)" style="mix-blend-mode:screen"/><ellipse cx="3670.8" cy="506.1" rx="75.2" ry="22.1" fill="#ffff40" opacity="0.9" filter="url(#bl22)" transform="rotate(-14.4 3670.8 506.1)" style="mix-blend-mode:screen"/><ellipse cx="3688.5" cy="554.8" rx="84.1" ry="19.9" fill="#f0d000" opacity="0.8" filter="url(#bl22)" transform="rotate(-14.4 3688.5 554.8)" style="mix-blend-mode:screen"/><ellipse cx="3790.3" cy="466.3" rx="75.2" ry="22.1" fill="#ff5010" opacity="0.9" filter="url(#bl22)" transform="rotate(-14.4 3790.3 466.3)" style="mix-blend-mode:screen"/><ellipse cx="3816.8" cy="519.4" rx="84.1" ry="22.1" fill="#e81800" opacity="0.8" filter="url(#bl22)" transform="rotate(-14.4 3816.8 519.4)" style="mix-blend-mode:screen"/><line x1="3383.2" y1="572.5" x2="3936.3" y2="430.0" stroke="#000" stroke-width="7" opacity="0.22" filter="url(#bl4)"/><line x1="3389.4" y1="587.5" x2="3942.5" y2="445.0" stroke="#000" stroke-width="7" opacity="0.22" filter="url(#bl4)"/><line x1="3395.6" y1="602.6" x2="3948.7" y2="460.1" stroke="#000" stroke-width="7" opacity="0.22" filter="url(#bl4)"/><line x1="3401.8" y1="617.6" x2="3954.9" y2="475.1" stroke="#000" stroke-width="7" opacity="0.22" filter="url(#bl4)"/><line x1="3408.0" y1="632.7" x2="3961.1" y2="490.2" stroke="#000" stroke-width="7" opacity="0.22" filter="url(#bl4)"/><line x1="3414.2" y1="647.7" x2="3967.3" y2="505.2" stroke="#000" stroke-width="7" opacity="0.22" filter="url(#bl4)"/><line x1="3420.4" y1="662.7" x2="3973.5" y2="520.3" stroke="#000" stroke-width="7" opacity="0.22" filter="url(#bl4)"/><line x1="3426.5" y1="677.8" x2="3979.6" y2="535.3" stroke="#000" stroke-width="7" opacity="0.22" filter="url(#bl4)"/><line x1="3432.7" y1="692.8" x2="3985.8" y2="550.4" stroke="#000" stroke-width="7" opacity="0.22" filter="url(#bl4)"/><line x1="3235.0" y1="557.0" x2="3354.4" y2="522.9" stroke="#3a3ad8" stroke-width="2.2" opacity="0.9"/><line x1="3308.0" y1="550.4" x2="3356.6" y2="537.1" stroke="#2a2ab0" stroke-width="2" opacity="0.8"/><g transform="translate(3350.4,521.2) rotate(-14.88)"><rect x="352.0" y="-47" width="116.9" height="94" fill="url(#lpr)"/><ellipse cx="468.9" cy="0" rx="14" ry="47" fill="#7a1206"/><ellipse cx="473.9" cy="0" rx="15" ry="46" fill="#180604"/><rect x="217.9" y="-47" width="134.1" height="94" fill="url(#lpy)"/><rect x="91.0" y="-47" width="126.9" height="94" fill="url(#lpg)"/><rect x="211.9" y="-47" width="11" height="94" fill="#48d020"/><rect x="348.0" y="-47" width="8" height="94" fill="#e05010"/><ellipse cx="165.2" cy="-4" rx="38" ry="26" fill="#ffffff" filter="url(#bl10)"/><ellipse cx="287.3" cy="-2" rx="30" ry="20" fill="#fffbe0" filter="url(#bl10)"/><ellipse cx="407.1" cy="-2" rx="26" ry="16" fill="#ffd0a0" filter="url(#bl10)" opacity="0.9"/><line x1="95.0" y1="-47" x2="95.0" y2="47" stroke="#000" stroke-width="1.1" opacity="0.16"/><line x1="100.2" y1="-47" x2="100.2" y2="47" stroke="#000" stroke-width="1.1" opacity="0.16"/><line x1="105.4" y1="-47" x2="105.4" y2="47" stroke="#000" stroke-width="1.1" opacity="0.16"/><line x1="110.6" y1="-47" x2="110.6" y2="47" stroke="#000" stroke-width="1.1" opacity="0.16"/><line x1="115.8" y1="-47" x2="115.8" y2="47" stroke="#000" stroke-width="1.1" opacity="0.16"/><line x1="121.0" y1="-47" x2="121.0" y2="47" stroke="#000" stroke-width="1.1" opacity="0.16"/><line x1="126.2" y1="-47" x2="126.2" y2="47" stroke="#000" stroke-width="1.1" opacity="0.16"/><line x1="131.4" y1="-47" x2="131.4" y2="47" stroke="#000" stroke-width="1.1" opacity="0.16"/><line x1="136.6" y1="-47" x2="136.6" y2="47" stroke="#000" stroke-width="1.1" opacity="0.16"/><line x1="141.8" y1="-47" x2="141.8" y2="47" stroke="#000" stroke-width="1.1" opacity="0.16"/><line x1="147.0" y1="-47" x2="147.0" y2="47" stroke="#000" stroke-width="1.1" opacity="0.16"/><line x1="152.2" y1="-47" x2="152.2" y2="47" stroke="#000" stroke-width="1.1" opacity="0.16"/><line x1="157.4" y1="-47" x2="157.4" y2="47" stroke="#000" stroke-width="1.1" opacity="0.16"/><line x1="162.6" y1="-47" x2="162.6" y2="47" stroke="#000" stroke-width="1.1" opacity="0.16"/><line x1="167.8" y1="-47" x2="167.8" y2="47" stroke="#000" stroke-width="1.1" opacity="0.16"/><line x1="173.0" y1="-47" x2="173.0" y2="47" stroke="#000" stroke-width="1.1" opacity="0.16"/><line x1="178.2" y1="-47" x2="178.2" y2="47" stroke="#000" stroke-width="1.1" opacity="0.16"/><line x1="183.4" y1="-47" x2="183.4" y2="47" stroke="#000" stroke-width="1.1" opacity="0.16"/><line x1="188.6" y1="-47" x2="188.6" y2="47" stroke="#000" stroke-width="1.1" opacity="0.16"/><line x1="193.8" y1="-47" x2="193.8" y2="47" stroke="#000" stroke-width="1.1" opacity="0.16"/><line x1="199.0" y1="-47" x2="199.0" y2="47" stroke="#000" stroke-width="1.1" opacity="0.16"/><line x1="204.2" y1="-47" x2="204.2" y2="47" stroke="#000" stroke-width="1.1" opacity="0.16"/><line x1="209.4" y1="-47" x2="209.4" y2="47" stroke="#000" stroke-width="1.1" opacity="0.16"/><line x1="214.6" y1="-47" x2="214.6" y2="47" stroke="#000" stroke-width="1.1" opacity="0.16"/><line x1="219.8" y1="-47" x2="219.8" y2="47" stroke="#000" stroke-width="1.1" opacity="0.16"/><line x1="225.0" y1="-47" x2="225.0" y2="47" stroke="#000" stroke-width="1.1" opacity="0.16"/><line x1="230.2" y1="-47" x2="230.2" y2="47" stroke="#000" stroke-width="1.1" opacity="0.16"/><line x1="235.4" y1="-47" x2="235.4" y2="47" stroke="#000" stroke-width="1.1" opacity="0.16"/><line x1="240.6" y1="-47" x2="240.6" y2="47" stroke="#000" stroke-width="1.1" opacity="0.16"/><line x1="245.8" y1="-47" x2="245.8" y2="47" stroke="#000" stroke-width="1.1" opacity="0.16"/><line x1="251.0" y1="-47" x2="251.0" y2="47" stroke="#000" stroke-width="1.1" opacity="0.16"/><line x1="256.2" y1="-47" x2="256.2" y2="47" stroke="#000" stroke-width="1.1" opacity="0.16"/><line x1="261.4" y1="-47" x2="261.4" y2="47" stroke="#000" stroke-width="1.1" opacity="0.16"/><line x1="266.6" y1="-47" x2="266.6" y2="47" stroke="#000" stroke-width="1.1" opacity="0.16"/><line x1="271.8" y1="-47" x2="271.8" y2="47" stroke="#000" stroke-width="1.1" opacity="0.16"/><line x1="277.0" y1="-47" x2="277.0" y2="47" stroke="#000" stroke-width="1.1" opacity="0.16"/><line x1="282.2" y1="-47" x2="282.2" y2="47" stroke="#000" stroke-width="1.1" opacity="0.16"/><line x1="287.4" y1="-47" x2="287.4" y2="47" stroke="#000" stroke-width="1.1" opacity="0.16"/><line x1="292.6" y1="-47" x2="292.6" y2="47" stroke="#000" stroke-width="1.1" opacity="0.16"/><line x1="297.8" y1="-47" x2="297.8" y2="47" stroke="#000" stroke-width="1.1" opacity="0.16"/><line x1="303.0" y1="-47" x2="303.0" y2="47" stroke="#000" stroke-width="1.1" opacity="0.16"/><line x1="308.2" y1="-47" x2="308.2" y2="47" stroke="#000" stroke-width="1.1" opacity="0.16"/><line x1="313.4" y1="-47" x2="313.4" y2="47" stroke="#000" stroke-width="1.1" opacity="0.16"/><line x1="318.6" y1="-47" x2="318.6" y2="47" stroke="#000" stroke-width="1.1" opacity="0.16"/><line x1="323.8" y1="-47" x2="323.8" y2="47" stroke="#000" stroke-width="1.1" opacity="0.16"/><line x1="329.0" y1="-47" x2="329.0" y2="47" stroke="#000" stroke-width="1.1" opacity="0.16"/><line x1="334.2" y1="-47" x2="334.2" y2="47" stroke="#000" stroke-width="1.1" opacity="0.16"/><line x1="339.4" y1="-47" x2="339.4" y2="47" stroke="#000" stroke-width="1.1" opacity="0.16"/><line x1="344.6" y1="-47" x2="344.6" y2="47" stroke="#000" stroke-width="1.1" opacity="0.16"/><line x1="349.8" y1="-47" x2="349.8" y2="47" stroke="#000" stroke-width="1.1" opacity="0.16"/><line x1="355.0" y1="-47" x2="355.0" y2="47" stroke="#000" stroke-width="1.1" opacity="0.16"/><line x1="360.2" y1="-47" x2="360.2" y2="47" stroke="#000" stroke-width="1.1" opacity="0.16"/><line x1="365.4" y1="-47" x2="365.4" y2="47" stroke="#000" stroke-width="1.1" opacity="0.16"/><line x1="370.6" y1="-47" x2="370.6" y2="47" stroke="#000" stroke-width="1.1" opacity="0.16"/><line x1="375.8" y1="-47" x2="375.8" y2="47" stroke="#000" stroke-width="1.1" opacity="0.16"/><line x1="381.0" y1="-47" x2="381.0" y2="47" stroke="#000" stroke-width="1.1" opacity="0.16"/><line x1="386.2" y1="-47" x2="386.2" y2="47" stroke="#000" stroke-width="1.1" opacity="0.16"/><line x1="391.4" y1="-47" x2="391.4" y2="47" stroke="#000" stroke-width="1.1" opacity="0.16"/><line x1="396.6" y1="-47" x2="396.6" y2="47" stroke="#000" stroke-width="1.1" opacity="0.16"/><line x1="401.8" y1="-47" x2="401.8" y2="47" stroke="#000" stroke-width="1.1" opacity="0.16"/><line x1="407.0" y1="-47" x2="407.0" y2="47" stroke="#000" stroke-width="1.1" opacity="0.16"/><line x1="412.2" y1="-47" x2="412.2" y2="47" stroke="#000" stroke-width="1.1" opacity="0.16"/><line x1="417.4" y1="-47" x2="417.4" y2="47" stroke="#000" stroke-width="1.1" opacity="0.16"/><line x1="422.6" y1="-47" x2="422.6" y2="47" stroke="#000" stroke-width="1.1" opacity="0.16"/><line x1="427.8" y1="-47" x2="427.8" y2="47" stroke="#000" stroke-width="1.1" opacity="0.16"/><line x1="433.0" y1="-47" x2="433.0" y2="47" stroke="#000" stroke-width="1.1" opacity="0.16"/><line x1="438.2" y1="-47" x2="438.2" y2="47" stroke="#000" stroke-width="1.1" opacity="0.16"/><line x1="443.4" y1="-47" x2="443.4" y2="47" stroke="#000" stroke-width="1.1" opacity="0.16"/><line x1="448.6" y1="-47" x2="448.6" y2="47" stroke="#000" stroke-width="1.1" opacity="0.16"/><line x1="453.8" y1="-47" x2="453.8" y2="47" stroke="#000" stroke-width="1.1" opacity="0.16"/><line x1="459.0" y1="-47" x2="459.0" y2="47" stroke="#000" stroke-width="1.1" opacity="0.16"/><line x1="91.0" y1="-42" x2="464.9" y2="-42" stroke="#000" stroke-width="1.1" opacity="0.13"/><line x1="91.0" y1="-35" x2="464.9" y2="-35" stroke="#000" stroke-width="1.1" opacity="0.13"/><line x1="91.0" y1="-28" x2="464.9" y2="-28" stroke="#000" stroke-width="1.1" opacity="0.13"/><line x1="91.0" y1="-21" x2="464.9" y2="-21" stroke="#000" stroke-width="1.1" opacity="0.13"/><line x1="91.0" y1="-14" x2="464.9" y2="-14" stroke="#000" stroke-width="1.1" opacity="0.13"/><line x1="91.0" y1="-7" x2="464.9" y2="-7" stroke="#000" stroke-width="1.1" opacity="0.13"/><line x1="91.0" y1="0" x2="464.9" y2="0" stroke="#000" stroke-width="1.1" opacity="0.13"/><line x1="91.0" y1="7" x2="464.9" y2="7" stroke="#000" stroke-width="1.1" opacity="0.13"/><line x1="91.0" y1="14" x2="464.9" y2="14" stroke="#000" stroke-width="1.1" opacity="0.13"/><line x1="91.0" y1="21" x2="464.9" y2="21" stroke="#000" stroke-width="1.1" opacity="0.13"/><line x1="91.0" y1="28" x2="464.9" y2="28" stroke="#000" stroke-width="1.1" opacity="0.13"/><line x1="91.0" y1="35" x2="464.9" y2="35" stroke="#000" stroke-width="1.1" opacity="0.13"/><line x1="91.0" y1="42" x2="464.9" y2="42" stroke="#000" stroke-width="1.1" opacity="0.13"/><line x1="91.0" y1="8" x2="464.9" y2="8" stroke="#301000" stroke-width="2.4" opacity="0.45"/><path d="M0,-41 L91.0,-47 L91.0,47 L8,45 Q-8,0 0,-41 Z" fill="url(#lpb)"/><rect x="86.0" y="-47" width="6" height="94" fill="#0e5a30"/></g></g>
<path d="M3511,1040 L3511,1062 A111,42 0 0 0 3733,1062 L3733,1040 Z" fill="#d2d4c0"/><ellipse cx="3622" cy="1036" rx="111" ry="52" fill="#e2e4d2"/><ellipse cx="3622" cy="1030" rx="62" ry="32" fill="#e8eadc"/><ellipse cx="3626" cy="1040" rx="40" ry="24" fill="#dcdeca" opacity="0.8"/><ellipse cx="3553" cy="1051" rx="13" ry="6" fill="#c4c8b0"/><ellipse cx="3679" cy="1056" rx="13" ry="6" fill="#c4c8b0"/><ellipse cx="3563" cy="993" rx="13" ry="6" fill="#c4c8b0"/><ellipse cx="3690" cy="999" rx="13" ry="6" fill="#c4c8b0"/><ellipse cx="3622" cy="992" rx="32" ry="13" fill="#eceee2"/><rect x="3597.5" y="722" width="50.5" height="268" fill="url(#pole2)"/><ellipse cx="3622.7" cy="990" rx="25.2" ry="7" fill="#e2e2e6"/><rect x="3597.5" y="724" width="50.5" height="78" fill="url(#thr)"/><line x1="3597.5" y1="736.0" x2="3648" y2="737.5" stroke="#8c8c92" stroke-width="1.3" opacity="0.55"/><line x1="3597.5" y1="741.6" x2="3648" y2="743.1" stroke="#8c8c92" stroke-width="1.3" opacity="0.55"/><line x1="3597.5" y1="747.2" x2="3648" y2="748.7" stroke="#8c8c92" stroke-width="1.3" opacity="0.55"/><line x1="3597.5" y1="752.8" x2="3648" y2="754.3" stroke="#8c8c92" stroke-width="1.3" opacity="0.55"/><line x1="3597.5" y1="758.4" x2="3648" y2="759.9" stroke="#8c8c92" stroke-width="1.3" opacity="0.55"/><line x1="3597.5" y1="764.0" x2="3648" y2="765.5" stroke="#8c8c92" stroke-width="1.3" opacity="0.55"/><line x1="3597.5" y1="769.6" x2="3648" y2="771.1" stroke="#8c8c92" stroke-width="1.3" opacity="0.55"/><line x1="3597.5" y1="775.2" x2="3648" y2="776.7" stroke="#8c8c92" stroke-width="1.3" opacity="0.55"/><line x1="3597.5" y1="780.8" x2="3648" y2="782.3" stroke="#8c8c92" stroke-width="1.3" opacity="0.55"/><line x1="3597.5" y1="786.4" x2="3648" y2="787.9" stroke="#8c8c92" stroke-width="1.3" opacity="0.55"/><line x1="3597.5" y1="792.0" x2="3648" y2="793.5" stroke="#8c8c92" stroke-width="1.3" opacity="0.55"/><line x1="3597.5" y1="797.6" x2="3648" y2="799.1" stroke="#8c8c92" stroke-width="1.3" opacity="0.55"/><ellipse cx="3622.7" cy="725" rx="25.2" ry="7" fill="#d0d0d4"/><ellipse cx="3622.7" cy="725.5" rx="19" ry="4.6" fill="#141418"/>
<line x1="3440" y1="804" x2="3626" y2="804" stroke="#3a3a3a" stroke-width="3"/>
<line x1="3440" y1="1105" x2="3626" y2="1105" stroke="#3a3a3a" stroke-width="3"/>
<line x1="3486" y1="804" x2="3486" y2="1105" stroke="#3a3a3a" stroke-width="3"/>
<line x1="3552" y1="1050" x2="3552" y2="1167" stroke="#3a3a3a" stroke-width="3"/>
<line x1="3680" y1="1050" x2="3680" y2="1167" stroke="#3a3a3a" stroke-width="3"/>
<line x1="3552" y1="1127.5" x2="3680" y2="1127.5" stroke="#3a3a3a" stroke-width="3"/>
<line x1="3677" y1="999" x2="3792" y2="999" stroke="#3a3a3a" stroke-width="3"/>
<line x1="3677" y1="1058.5" x2="3792" y2="1058.5" stroke="#3a3a3a" stroke-width="3"/>
<line x1="3752.5" y1="999" x2="3752.5" y2="1058.5" stroke="#3a3a3a" stroke-width="3"/>
<text x="3273" y="983.5" font-family="Liberation Sans" font-size="75" fill="#333" stroke="#fff" stroke-width="1.6" textLength="189" lengthAdjust="spacingAndGlyphs">85MM</text>
<text transform="translate(3880,1122) rotate(-90)" font-family="Liberation Sans" font-size="79" fill="#333" stroke="#fff" stroke-width="1.6" textLength="188" lengthAdjust="spacingAndGlyphs">38MM</text>
<path d="M3575.0,1379.0 L3596.3,1382.9 Q3604.1,1417.8 3596.3,1452.7 L3575.0,1460.5 Z" fill="#a4acb6"/><path d="M3285.8,1382.9 L3273.4,1398.4 Q3271.1,1413.9 3278.1,1425.5 L3289.7,1429.4 Z" fill="#9aa2ae"/><g clip-path="url(#tailL)"><rect x="3290" y="1470" width="90" height="90" fill="#7c2a10"/><line x1="3293.6" y1="1561.4" x2="3367.3" y2="1507.0" stroke="#d2691c" stroke-width="5"/><line x1="3293.6" y1="1549.7" x2="3367.3" y2="1495.4" stroke="#d2691c" stroke-width="5"/><line x1="3293.6" y1="1538.1" x2="3367.3" y2="1483.8" stroke="#d2691c" stroke-width="5"/><line x1="3293.6" y1="1526.5" x2="3367.3" y2="1472.1" stroke="#d2691c" stroke-width="5"/><line x1="3293.6" y1="1514.8" x2="3367.3" y2="1460.5" stroke="#d2691c" stroke-width="5"/><line x1="3293.6" y1="1503.2" x2="3367.3" y2="1448.8" stroke="#d2691c" stroke-width="5"/><line x1="3293.6" y1="1491.5" x2="3367.3" y2="1437.2" stroke="#d2691c" stroke-width="5"/><line x1="3293.6" y1="1479.9" x2="3367.3" y2="1425.5" stroke="#d2691c" stroke-width="5"/></g><g clip-path="url(#tailR)"><rect x="3530" y="1450" width="100" height="110" fill="#7c2a10"/><line x1="3538.1" y1="1514.8" x2="3627.4" y2="1576.9" stroke="#d2691c" stroke-width="5"/><line x1="3538.1" y1="1503.2" x2="3627.4" y2="1565.3" stroke="#d2691c" stroke-width="5"/><line x1="3538.1" y1="1491.5" x2="3627.4" y2="1553.6" stroke="#d2691c" stroke-width="5"/><line x1="3538.1" y1="1479.9" x2="3627.4" y2="1542.0" stroke="#d2691c" stroke-width="5"/><line x1="3538.1" y1="1468.2" x2="3627.4" y2="1530.3" stroke="#d2691c" stroke-width="5"/><line x1="3538.1" y1="1456.6" x2="3627.4" y2="1518.7" stroke="#d2691c" stroke-width="5"/><line x1="3538.1" y1="1445.0" x2="3627.4" y2="1507.0" stroke="#d2691c" stroke-width="5"/><line x1="3538.1" y1="1433.3" x2="3627.4" y2="1495.4" stroke="#d2691c" stroke-width="5"/><line x1="3538.1" y1="1421.7" x2="3627.4" y2="1483.8" stroke="#d2691c" stroke-width="5"/></g><ellipse cx="3435.2" cy="1396.8" rx="150" ry="143" fill="url(#ballg)"/><path d="M3304.5,1361.5 C3304.5,1340.9 3316.1,1331.6 3337.1,1330.1 L3516.7,1331.6 C3535.0,1334.0 3546.6,1344.0 3546.6,1364.2 L3548.6,1445.7 C3546.6,1465.1 3523.3,1475.2 3492.3,1471.3 C3461.3,1462.0 3445.7,1457.4 3430.2,1457.4 C3406.9,1457.4 3383.6,1469.0 3360.3,1476.8 C3329.3,1475.2 3313.0,1461.3 3310.7,1441.8 Z" fill="#f4f6f8" stroke="#7fe6e0" stroke-width="2.4"/><path d="M3322.7,1367.3 C3322.7,1349.9 3332.4,1344.0 3347.9,1343.3 L3505.1,1344.0 C3520.6,1345.6 3528.4,1353.7 3528.4,1369.3 L3530.3,1435.2 C3528.4,1448.8 3510.9,1456.6 3491.5,1453.5 C3464.4,1445.7 3448.8,1441.8 3430.2,1441.8 C3408.1,1441.8 3386.7,1451.9 3365.4,1458.5 C3342.1,1456.6 3329.3,1448.8 3327.7,1433.3 Z" fill="url(#visg)" stroke="#8a8a90" stroke-width="1.2"/><path d="M3322.7,1367.3 C3322.7,1349.9 3332.4,1344.0 3347.9,1343.3 L3505.1,1344.0 C3520.6,1345.6 3528.4,1353.7 3528.4,1369.3 L3530.3,1435.2 C3528.4,1448.8 3510.9,1456.6 3491.5,1453.5 C3464.4,1445.7 3448.8,1441.8 3430.2,1441.8 C3408.1,1441.8 3386.7,1451.9 3365.4,1458.5 C3342.1,1456.6 3329.3,1448.8 3327.7,1433.3 Z" fill="none" stroke="#ffffff" stroke-width="5" opacity="0.55"/><path d="M3329.3,1387.5 C3328.5,1367.3 3344.0,1354.5 3363.5,1354.5 C3383.6,1354.5 3396.8,1371.2 3396.8,1389.1 C3382.9,1394.5 3344.0,1395.3 3329.3,1387.5 Z" fill="#050505"/><path d="M3447.7,1383.6 C3448.4,1363.5 3464.4,1349.5 3484.5,1349.5 C3505.5,1349.5 3519.5,1367.3 3521.0,1383.6 C3499.3,1390.6 3468.2,1391.4 3447.7,1383.6 Z" fill="#050505"/><path d="M3387.5,1334.7 L3457.4,1334.7 L3440.3,1377.4 L3405.4,1377.4 Z" fill="#f7941e"/><path d="M3402.3,1336.3 L3443.4,1336.3 L3432.5,1364.2 L3413.9,1364.2 Z" fill="#8b3212"/><g clip-path="url(#turbc)"><rect x="3247.0" y="1165.5" width="400" height="300" fill="#7c2a10"/><path d="M3247.0,1387.5 C3313.0,1300.7 3429.4,1246.1 3596.3,1227.5" fill="none" stroke="#d2691c" stroke-width="10"/><path d="M3247.0,1359.6 C3313.0,1274.2 3429.4,1223.7 3596.3,1212.1" fill="none" stroke="#d2691c" stroke-width="13"/><path d="M3247.0,1331.6 C3313.0,1247.6 3429.4,1201.4 3596.3,1196.7" fill="none" stroke="#d2691c" stroke-width="10"/><path d="M3247.0,1303.7 C3313.0,1221.1 3429.4,1179.0 3596.3,1181.4" fill="none" stroke="#d2691c" stroke-width="13"/><path d="M3247.0,1275.7 C3313.0,1194.6 3429.4,1156.7 3596.3,1166.0" fill="none" stroke="#d2691c" stroke-width="10"/><path d="M3247.0,1247.8 C3313.0,1168.0 3429.4,1134.3 3596.3,1150.6" fill="none" stroke="#d2691c" stroke-width="13"/><path d="M3247.0,1219.9 C3313.0,1141.5 3429.4,1112.0 3596.3,1135.3" fill="none" stroke="#d2691c" stroke-width="10"/><path d="M3247.0,1191.9 C3313.0,1114.9 3429.4,1089.6 3596.3,1119.9" fill="none" stroke="#d2691c" stroke-width="13"/><g clip-path="url(#turbr)"><rect x="3421.7" y="1227.6" width="230" height="220" fill="#7c2a10"/><path d="M3442.6,1271.1 C3508.6,1304.5 3574.6,1350.3 3618.8,1410.8" fill="none" stroke="#d2691c" stroke-width="9.5"/><path d="M3465.1,1259.2 C3524.4,1289.9 3583.8,1334.4 3624.1,1392.3" fill="none" stroke="#d2691c" stroke-width="12"/><path d="M3487.5,1247.3 C3540.3,1275.4 3593.0,1318.6 3629.4,1373.9" fill="none" stroke="#d2691c" stroke-width="9.5"/><path d="M3509.9,1235.5 C3556.1,1260.9 3602.3,1302.8 3634.7,1355.4" fill="none" stroke="#d2691c" stroke-width="12"/><path d="M3532.3,1223.6 C3571.9,1246.4 3611.5,1286.9 3639.9,1336.9" fill="none" stroke="#d2691c" stroke-width="9.5"/><path d="M3554.8,1211.7 C3587.8,1231.9 3620.8,1271.1 3645.2,1318.4" fill="none" stroke="#d2691c" stroke-width="12"/></g><path d="M3351.8,1332.4 C3382.9,1305.2 3406.1,1289.7 3429.4,1280.0 C3460.5,1297.5 3483.8,1313.0 3499.3,1326.6 C3452.7,1320.0 3398.4,1320.8 3351.8,1332.4 Z" fill="#86300f"/><path d="M3264.9,1382.9 C3305.2,1313.0 3398.4,1266.4 3573.0,1241.6" fill="none" stroke="#f7941e" stroke-width="13"/><path d="M3433.3,1280.0 C3499.3,1305.2 3576.9,1351.8 3617.7,1406.1" fill="none" stroke="#f7941e" stroke-width="13"/></g>
<polygon points="2287,2000 2361,1965.5 4000,1965.5 4000,2000" fill="url(#floorg)"/><path d="M3401.6,1934.3 L3440.0,1909.9 L3586.8,1902.9 L3674.1,1965.8 L3373.6,1965.8 Z" fill="#e2e4e4"/><path d="M3626.9,1741.5 Q3628.0,1737.3 3633.9,1737.3 L3955.3,1736.8 Q3960.0,1737.3 3961.8,1741.9 L4000.0,1860.7 L4000.0,1965.5 L3661.8,1965.5 L3578.0,1900.8 L3578.0,1860.7 L3602.4,1851.4 L3647.8,1867.7 Z" fill="#4b4742"/><path d="M3969.3,1782.0 L4000.0,1782.0 L4000.0,1802.5 L3976.3,1803.7 Z" fill="#55514c"/><path d="M3667.6,1738.7 L3923.9,1737.3 L3967.0,1874.7 L3699.1,1876.1 Z" fill="#f7f7f7"/><path d="M3680.4,1751.2 L3915.7,1749.8 L3946.0,1863.1 L3710.7,1864.5 Z" fill="#fbfbfb"/><path d="M3626.9,1741.5 L3647.8,1867.7 L3602.4,1851.4 L3596.6,1821.1 Z" fill="#e4e4ea"/><circle cx="3684.6" cy="1927.1" r="29.5" fill="#f4f4f6" stroke="#dcdce0" stroke-width="1.5"/><circle cx="3684.6" cy="1927.1" r="22" fill="#fafafa" stroke="#e6e6ea" stroke-width="1"/><rect x="3725.9" y="1898.0" width="400" height="59.4" rx="29" fill="#f6f7f8"/><path d="M3394.6,1847.0 L3586.8,1847.0 L3586.8,1901.2 L3440.0,1906.4 L3401.6,1934.3 L3394.6,1934.3 Z" fill="#4a4540"/><g clip-path="url(#vestc)"><rect x="3282.8" y="1567.5" width="320" height="410" fill="#8a2e10"/><path d="M3309.0,1564.0 C3304.8,1689.8 3291.5,1829.5 3295.0,1969.3" fill="none" stroke="#c8641a" stroke-width="8.5"/><path d="M3325.4,1564.0 C3321.2,1689.8 3309.0,1829.5 3312.5,1969.3" fill="none" stroke="#c8641a" stroke-width="7.5"/><path d="M3341.8,1564.0 C3337.6,1689.8 3326.5,1829.5 3329.9,1969.3" fill="none" stroke="#c8641a" stroke-width="8.5"/><path d="M3358.2,1564.0 C3354.1,1689.8 3343.9,1829.5 3347.4,1969.3" fill="none" stroke="#c8641a" stroke-width="7.5"/><path d="M3374.7,1564.0 C3370.5,1689.8 3361.4,1829.5 3364.9,1969.3" fill="none" stroke="#c8641a" stroke-width="8.5"/><path d="M3391.1,1564.0 C3386.9,1689.8 3378.9,1829.5 3382.4,1969.3" fill="none" stroke="#c8641a" stroke-width="7.5"/><path d="M3407.5,1564.0 C3403.3,1689.8 3396.3,1829.5 3399.8,1969.3" fill="none" stroke="#c8641a" stroke-width="8.5"/><path d="M3423.9,1564.0 C3419.7,1689.8 3413.8,1829.5 3417.3,1969.3" fill="none" stroke="#c8641a" stroke-width="7.5"/><path d="M3440.4,1564.0 C3436.2,1689.8 3431.3,1829.5 3434.8,1969.3" fill="none" stroke="#c8641a" stroke-width="8.5"/><path d="M3456.8,1564.0 C3452.6,1689.8 3448.7,1829.5 3452.2,1969.3" fill="none" stroke="#c8641a" stroke-width="7.5"/><path d="M3473.2,1564.0 C3469.0,1689.8 3466.2,1829.5 3469.7,1969.3" fill="none" stroke="#c8641a" stroke-width="8.5"/><path d="M3489.6,1564.0 C3485.4,1689.8 3483.7,1829.5 3487.2,1969.3" fill="none" stroke="#c8641a" stroke-width="7.5"/><path d="M3506.0,1564.0 C3501.9,1689.8 3501.2,1829.5 3504.6,1969.3" fill="none" stroke="#c8641a" stroke-width="8.5"/><path d="M3522.5,1564.0 C3518.3,1689.8 3518.6,1829.5 3522.1,1969.3" fill="none" stroke="#c8641a" stroke-width="7.5"/><path d="M3538.9,1564.0 C3534.7,1689.8 3536.1,1829.5 3539.6,1969.3" fill="none" stroke="#c8641a" stroke-width="8.5"/><path d="M3555.3,1564.0 C3551.1,1689.8 3553.6,1829.5 3557.1,1969.3" fill="none" stroke="#c8641a" stroke-width="7.5"/><path d="M3571.7,1564.0 C3567.5,1689.8 3571.0,1829.5 3574.5,1969.3" fill="none" stroke="#c8641a" stroke-width="8.5"/><path d="M3588.2,1564.0 C3584.0,1689.8 3588.5,1829.5 3592.0,1969.3" fill="none" stroke="#c8641a" stroke-width="7.5"/><path d="M3390.4,1936.1 L3400.2,1936.1 L3400.2,1850.5 L3390.4,1850.5 Z" fill="#d41a12"/></g><path d="M3391.1,1580.0 L3471.5,1580.0 L3476.3,1714.2 L3394.6,1726.5 Z" fill="url(#chestg)"/><path d="M3396.7,1654.8 L3457.5,1651.3 L3466.2,1661.1 L3457.5,1670.5 L3406.8,1675.8 L3398.8,1667.1 Z" fill="#e03030"/><path d="M3405.1,1668.8 L3464.5,1667.1 L3462.7,1676.5 L3406.8,1677.9 Z" fill="#8a2020" opacity="0.7"/><path d="M3262.5,1619.9 Q3263.9,1611.5 3272.3,1608.7 L3314.2,1593.3 L3309.0,1654.8 L3303.7,1700.2 L3289.1,1690.5 L3265.3,1654.8 Z" fill="#e01616"/><path d="M3558.1,1593.3 L3613.0,1608.0 Q3622.4,1610.8 3622.4,1618.5 L3618.9,1641.5 L3594.4,1690.5 L3574.5,1705.5 L3565.8,1654.8 Z" fill="#e01616"/><path d="M3265.3,1654.8 C3251.3,1689.8 3237.4,1731.7 3236.0,1756.1 C3240.8,1787.6 3265.3,1801.6 3289.8,1803.0 L3298.5,1745.7 L3303.7,1700.2 L3289.1,1690.5 Z" fill="url(#armg)"/><path d="M3618.9,1641.5 C3632.2,1675.8 3637.4,1703.7 3635.0,1724.7 C3625.2,1759.6 3604.2,1794.6 3569.3,1812.8 L3559.5,1754.4 L3574.5,1705.5 L3594.4,1690.5 Z" fill="url(#armg)"/><path d="M3290.5,1745.7 C3314.2,1735.2 3345.7,1738.7 3373.6,1745.7 L3415.5,1759.6 L3415.5,1829.5 C3394.6,1857.5 3331.7,1861.0 3296.8,1847.0 C3282.8,1822.5 3282.8,1773.6 3290.5,1745.7 Z" fill="#e01414"/><path d="M3464.5,1745.7 C3485.4,1731.7 3534.3,1731.7 3558.8,1754.4 C3569.3,1787.6 3567.5,1822.5 3551.8,1847.0 C3516.9,1857.5 3485.4,1854.0 3464.5,1840.0 L3415.5,1829.5 L3415.5,1773.6 Z" fill="#e01414"/><ellipse cx="3292.6" cy="1791.1" rx="13" ry="30" fill="#eef2f2" transform="rotate(8 3292.6 1791.1)"/><ellipse cx="3536.1" cy="1791.1" rx="22" ry="32" fill="#f0f2f2" stroke="#b01010" stroke-width="2" transform="rotate(-8 3536.1 1791.1)"/><rect x="3324.7" y="1719.5" width="69.9" height="31.4" rx="15.7" fill="#eeeef2" stroke="#5a5a5a" stroke-width="1.2" transform="rotate(-14 3359.6 1735.2)"/><rect x="3431.3" y="1716.0" width="76.9" height="34.9" rx="17.5" fill="#eeeef2" stroke="#5a5a5a" stroke-width="1.2" transform="rotate(16 3469.7 1733.4)"/><rect x="3333.4" y="1751.8" width="80.4" height="33.2" rx="16.6" fill="#eeeef2" stroke="#5a5a5a" stroke-width="1.2" transform="rotate(-18 3373.6 1768.4)"/><rect x="3401.6" y="1763.1" width="80.4" height="34.9" rx="17.5" fill="#eeeef2" stroke="#5a5a5a" stroke-width="1.2" transform="rotate(-16 3441.8 1780.6)"/><rect x="3326.5" y="1797.2" width="76.9" height="33.2" rx="16.6" fill="#eeeef2" stroke="#5a5a5a" stroke-width="1.2" transform="rotate(-20 3364.9 1813.8)"/><rect x="3410.3" y="1813.8" width="83.9" height="34.9" rx="17.5" fill="#eeeef2" stroke="#5a5a5a" stroke-width="1.2" transform="rotate(-6 3452.2 1831.3)"/><circle cx="3399.8" cy="1756.8" r="19" fill="#8e8e92"/><circle cx="3396.8" cy="1753.8" r="12" fill="#a2a2a6" opacity="0.7"/><circle cx="3387.6" cy="1803.3" r="19" fill="#8e8e92"/><circle cx="3384.6" cy="1800.3" r="12" fill="#a2a2a6" opacity="0.7"/>
<g style="mix-blend-mode:multiply"><path d="M1970.2,906.2 L2443.0,881.7 Q2463.4,880.7 2461.5,900.8 L2436.2,1069.2 Q2433.5,1085.5 2415.9,1087.7 L1975.7,1110.0 Z" fill="#d6d6d6"/><circle cx="1918.0" cy="1008.5" r="119" fill="#d6d6d6"/><g clip-path="url(#wmin)"><circle cx="1918.0" cy="1009.5" r="104.5" fill="#eec9c9"/><path d="M1840.6,1077.9 L1933.4,1061.7 L1998.0,985.0 L2022.3,985.0 L2022.3,1132.4 L1840.6,1132.4 Z" fill="#f8b9bd"/><path d="M1853.7,1076.9 C1856.7,1053.6 1864.8,1039.5 1874.9,1035.5 L1893.1,1029.4 L1933.4,1001.1 C1941.5,989.0 1953.6,985.0 1973.8,986.0 L1991.0,989.0 C1999.1,1001.1 1999.1,1025.4 1990.0,1047.6 C1981.9,1057.7 1961.7,1061.7 1941.5,1069.8 C1929.4,1077.9 1929.4,1090.0 1924.4,1095.0 C1909.2,1104.1 1885.0,1102.1 1868.8,1093.0 C1860.8,1088.0 1854.7,1081.9 1853.7,1076.9 Z" fill="#eef1f1"/><path d="M1857.7,1072.8 C1860.8,1053.6 1868.8,1042.5 1876.9,1040.5 L1896.1,1033.4 L1935.5,1006.2 C1943.5,994.1 1955.7,990.6 1973.8,991.4 L1985.9,993.5 C1992.0,1003.2 1992.0,1023.3 1984.9,1042.5 C1977.9,1051.6 1959.7,1056.1 1939.5,1064.1 C1925.4,1071.8 1924.4,1083.9 1919.3,1089.0 C1907.2,1097.0 1885.0,1095.0 1871.9,1086.9 C1863.8,1081.9 1858.7,1077.9 1857.7,1072.8 Z" fill="#ffffff"/><path d="M1868.8,1062.7 C1864.4,1046.6 1880.9,1035.1 1893.5,1036.7 C1901.5,1039.5 1903.6,1046.0 1901.1,1050.0 C1893.1,1058.5 1876.9,1068.2 1868.8,1062.7 Z" fill="#cfcfcf"/><path d="M1942.5,1009.2 C1943.5,997.1 1953.6,991.4 1967.8,992.3 L1983.9,995.1 C1985.9,1005.2 1981.9,1015.3 1973.8,1019.3 C1961.7,1022.3 1947.6,1021.3 1942.5,1009.2 Z" fill="#cfcfcf"/><path d="M1908.2,905.2 L1931.0,908.3 L1849.7,1089.0 L1830.5,1070.8 Z" fill="#fff0ac"/><path d="M1906.2,959.7 L2008.1,967.2 L2010.2,987.4 L1894.1,982.0 Z" fill="#fff0ac"/><path d="M1895.5,1027.8 L1901.1,1022.1 L1911.2,1030.6 L1928.8,1021.3 L1926.4,1006.4 L1933.8,1003.2 L1938.9,1023.8 L1910.2,1042.7 Z" fill="#fff0ac"/></g><g transform="translate(2045,1007) rotate(-2.6) skewX(-9.5)" fill="none" stroke="#fff" stroke-width="17.5" stroke-linejoin="round" stroke-linecap="butt"><path transform="translate(0.0,0)" d="M8,-79 L45,-79 L45,-10 Q45,0 35,0 L-4,0"/><path transform="translate(81.5,0)" d="M9,-79 L36,-79 Q45,-79 45,-70 L45,-9 Q45,0 36,0 L9,0 Q0,0 0,-9 L0,-70 Q0,-79 9,-79 Z"/><path transform="translate(163.0,0)" d="M45,-65 L45,-70 Q45,-79 36,-79 L9,-79 Q0,-79 0,-70 L0,-9 Q0,0 9,0 L36,0 Q45,0 45,-9 L45,-36 L29,-36"/><path transform="translate(244.5,0)" d="M8,-79 L45,-79 L45,-10 Q45,0 35,0 L-4,0"/><path transform="translate(326.0,0)" d="M0,0 L0,-55 L22.5,-85 L45,-55 L45,0 M0,-26 L45,-26"/></g><g transform="translate(2026,1090) rotate(-2.6) skewX(-9.5)" fill="none" stroke="#fff" stroke-width="13" stroke-linejoin="round" stroke-linecap="butt"><path transform="translate(0.0,0)" d="M0,0 L0,-47 L20,-47 Q27,-47 27,-40 L27,-30 Q27,-23 20,-23 L0,-23 M13,-23 L27,0"/><path transform="translate(52.3,0)" d="M7,-47 L20,-47 Q27,-47 27,-40 L27,-7 Q27,0 20,0 L7,0 Q0,0 0,-7 L0,-40 Q0,-47 7,-47 Z"/><path transform="translate(104.6,0)" d="M0,0 L0,-47 L20,-47 Q27,-47 27,-40 L27,-30 Q27,-24 21,-24 L0,-24 M21,-24 Q27,-24 27,-17 L27,-7 Q27,0 20,0 L0,0"/><path transform="translate(156.9,0)" d="M7,-47 L20,-47 Q27,-47 27,-40 L27,-7 Q27,0 20,0 L7,0 Q0,0 0,-7 L0,-40 Q0,-47 7,-47 Z"/><path transform="translate(209.2,0)" d="M-3,-47 L30,-47 M13.5,-47 L13.5,0"/><path transform="translate(261.5,0)" d="M2,-47 L25,-47 M13.5,-47 L13.5,0 M2,0 L25,0"/><path transform="translate(313.8,0)" d="M0,0 L0,-47 M27,-47 L4,-24 L27,0"/><path transform="translate(366.1,0)" d="M0,0 L0,-31 L13.5,-50 L27,-31 L27,0 M0,-17 L27,-17"/></g></g>
</svg>
</body></html>
